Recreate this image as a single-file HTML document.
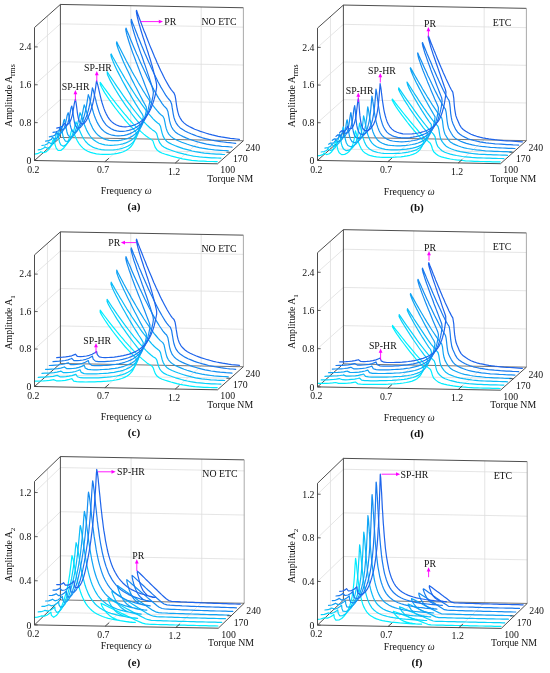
<!DOCTYPE html>
<html lang="en"><head><meta charset="utf-8"><title>Figure</title>
<style>html,body{margin:0;padding:0;background:#fff}svg{display:block}</style></head>
<body>
<svg width="550" height="673" viewBox="0 0 550 673" font-family="'Liberation Serif', 'Times New Roman', serif" fill="#111111">
<rect width="550" height="673" fill="#ffffff"/>
<line x1="34.50" y1="122.64" x2="60.40" y2="99.59" stroke="#dedede" stroke-width="0.80"/>
<line x1="60.40" y1="99.59" x2="243.40" y2="102.89" stroke="#dedede" stroke-width="0.80"/>
<line x1="34.50" y1="84.77" x2="60.40" y2="61.72" stroke="#dedede" stroke-width="0.80"/>
<line x1="60.40" y1="61.72" x2="243.40" y2="65.02" stroke="#dedede" stroke-width="0.80"/>
<line x1="34.50" y1="46.91" x2="60.40" y2="23.86" stroke="#dedede" stroke-width="0.80"/>
<line x1="60.40" y1="23.86" x2="243.40" y2="27.16" stroke="#dedede" stroke-width="0.80"/>
<line x1="104.88" y1="161.77" x2="130.78" y2="138.72" stroke="#dedede" stroke-width="0.80"/>
<line x1="130.78" y1="138.72" x2="130.78" y2="5.72" stroke="#dedede" stroke-width="0.80"/>
<line x1="175.27" y1="163.04" x2="201.17" y2="139.99" stroke="#dedede" stroke-width="0.80"/>
<line x1="201.17" y1="139.99" x2="201.17" y2="6.99" stroke="#dedede" stroke-width="0.80"/>
<line x1="47.45" y1="148.97" x2="230.45" y2="152.28" stroke="#dedede" stroke-width="0.80"/>
<line x1="47.45" y1="148.97" x2="47.45" y2="15.97" stroke="#dedede" stroke-width="0.80"/>
<line x1="60.40" y1="137.45" x2="243.40" y2="140.75" stroke="#666666" stroke-width="0.90"/>
<line x1="34.50" y1="160.50" x2="60.40" y2="137.45" stroke="#3a3a3a" stroke-width="0.90"/>
<line x1="60.40" y1="137.45" x2="60.40" y2="4.45" stroke="#3a3a3a" stroke-width="0.90"/>
<line x1="60.40" y1="4.45" x2="243.40" y2="7.75" stroke="#3a3a3a" stroke-width="0.90"/>
<line x1="34.50" y1="27.50" x2="60.40" y2="4.45" stroke="#3a3a3a" stroke-width="0.90"/>
<line x1="243.40" y1="140.75" x2="243.40" y2="7.75" stroke="#a0a0a0" stroke-width="0.90"/>
<path d="M34.5 154.1 L37.5 153.7 L40.3 152.3 L40.8 151.7 L43.6 152.8 L46.4 151.6 L48.7 149.6 L50.3 147.0 L51.6 144.1 L52.5 141.1 L53.6 139.3 L54.5 142.1 L55.2 145.1 L56.2 148.1 L58.1 150.5 L61.1 150.3 L63.5 148.3 L65.4 145.9 L67.1 143.3 L68.4 140.4 L69.5 137.6 L70.4 134.6 L71.2 131.6 L71.9 129.5 L73.4 132.2 L74.6 135.0 L75.9 137.9 L77.2 140.6 L78.8 143.3 L80.6 145.7 L82.7 147.9 L85.0 149.8 L87.7 151.3 L90.5 152.4 L93.4 153.2 L96.4 153.8 L99.4 154.2 L102.4 154.4 L105.5 154.4 L108.5 154.4 L111.5 154.2 L114.5 153.9 L117.5 153.4 L120.4 152.7 L123.3 151.7 L126.0 150.5 L128.6 148.8 L130.8 146.8 L132.6 144.4 L134.0 141.7 L135.2 138.9 L136.1 136.0 L136.7 133.1 L134.9 130.6 L132.8 128.5 L130.7 126.4 L128.6 124.1 L126.6 121.8 L124.5 119.5 L122.6 117.1 L120.6 114.7 L118.7 112.4 L116.9 110.0 L115.0 107.6 L113.2 105.1 L111.4 102.7 L109.6 100.2 L107.9 97.7 L106.3 95.1 L104.6 92.6 L103.1 89.9 L101.6 87.3 L100.3 84.6 L100.2 82.3 L102.0 84.9 L103.8 87.4 L105.7 89.9 L107.5 92.4 L109.4 94.9 L111.2 97.3 L113.1 99.7 L115.0 102.1 L116.9 104.6 L118.9 107.0 L120.8 109.4 L122.8 111.8 L124.7 114.1 L126.7 116.4 L128.7 118.8 L130.8 121.1 L132.8 123.3 L135.0 125.6 L137.1 127.8 L139.3 130.0 L141.5 132.1 L143.8 134.1 L146.1 136.0 L148.6 137.8 L151.2 139.4 L152.9 140.9 L154.0 144.1 L155.1 147.1 L156.8 149.7 L159.1 151.6 L161.8 153.0 L164.7 154.0 L167.6 154.9 L170.6 155.8 L173.6 156.6 L176.6 157.4 L179.6 158.1 L182.6 158.8 L185.6 159.3 L188.6 159.8 L191.7 160.3 L194.7 160.6 L197.7 160.9 L200.7 161.1 L203.7 161.2 L206.7 161.4 L209.7 161.5 L212.7 161.5 L215.7 161.6 L217.2 161.7" fill="none" stroke="#00eeff" stroke-width="1.20" stroke-linejoin="round" stroke-linecap="round"/>
<path d="M38.2 149.8 L41.2 149.3 L44.0 148.0 L44.7 146.9 L47.4 148.3 L50.2 147.0 L52.3 144.7 L53.8 142.1 L54.8 139.3 L55.8 136.2 L56.6 133.3 L57.2 132.6 L58.1 135.5 L58.7 138.7 L59.5 141.9 L60.7 144.7 L63.3 146.3 L65.9 144.9 L68.0 142.6 L69.7 140.1 L71.3 137.4 L72.5 134.5 L73.5 131.6 L74.3 128.5 L75.0 125.5 L75.8 122.5 L76.0 121.9 L77.3 124.8 L78.5 127.7 L79.6 130.6 L80.9 133.5 L82.2 136.3 L83.8 139.0 L85.6 141.5 L87.7 143.7 L90.0 145.5 L92.7 147.1 L95.5 148.2 L98.4 149.0 L101.4 149.6 L104.4 149.9 L107.4 150.0 L110.4 150.0 L113.5 149.8 L116.5 149.5 L119.5 149.0 L122.4 148.3 L125.3 147.3 L128.1 146.0 L130.6 144.4 L132.9 142.4 L134.8 140.0 L136.3 137.4 L137.6 134.6 L138.6 131.8 L139.4 128.9 L140.1 125.9 L139.1 123.0 L137.1 120.7 L135.2 118.3 L133.3 115.9 L131.5 113.5 L129.7 110.9 L127.9 108.4 L126.0 105.9 L124.3 103.4 L122.6 100.9 L120.9 98.3 L119.2 95.7 L117.6 93.1 L116.0 90.5 L114.4 87.9 L112.9 85.3 L111.4 82.6 L109.9 79.9 L108.6 77.1 L107.4 74.4 L107.2 71.7 L108.8 74.2 L110.5 76.8 L112.2 79.4 L114.0 82.0 L115.7 84.6 L117.4 87.2 L119.2 89.7 L120.9 92.2 L122.6 94.7 L124.5 97.3 L126.3 99.8 L128.1 102.3 L129.9 104.7 L131.8 107.1 L133.7 109.6 L135.6 112.0 L137.5 114.4 L139.5 116.8 L141.5 119.1 L143.5 121.4 L145.6 123.6 L147.8 125.8 L150.1 128.0 L152.5 129.9 L155.0 131.6 L156.6 133.4 L157.6 136.8 L158.5 140.0 L159.8 142.9 L161.7 145.4 L164.2 147.3 L166.9 148.6 L169.8 149.7 L172.6 150.7 L175.5 151.7 L178.4 152.6 L181.4 153.4 L184.4 154.2 L187.4 154.9 L190.4 155.5 L193.4 156.1 L196.4 156.5 L199.5 156.9 L202.5 157.2 L205.5 157.4 L208.5 157.6 L211.5 157.8 L214.5 157.9 L217.5 158.0 L220.5 158.1 L220.9 158.1" fill="none" stroke="#06d2fb" stroke-width="1.20" stroke-linejoin="round" stroke-linecap="round"/>
<path d="M41.9 145.5 L44.9 145.0 L47.7 143.7 L48.6 142.1 L51.1 143.7 L53.8 142.4 L55.8 140.1 L57.3 137.3 L58.3 134.3 L59.1 131.4 L59.8 128.3 L60.8 126.0 L61.7 129.1 L62.3 132.4 L62.9 135.6 L63.8 138.5 L65.4 141.1 L68.4 141.3 L70.6 139.2 L72.4 136.7 L73.9 134.0 L75.2 131.3 L76.2 128.5 L77.2 125.5 L78.0 122.5 L78.7 119.3 L79.3 116.2 L80.0 113.0 L80.1 112.7 L81.3 115.6 L82.3 118.5 L83.3 121.6 L84.3 124.5 L85.4 127.3 L86.6 130.1 L88.1 132.9 L89.7 135.5 L91.6 138.0 L93.9 140.1 L96.4 141.8 L99.1 143.2 L102.0 144.1 L104.9 144.8 L107.9 145.2 L110.9 145.3 L113.9 145.2 L116.9 145.0 L119.9 144.5 L122.9 143.8 L125.8 142.9 L128.5 141.7 L131.2 140.2 L133.6 138.3 L135.7 136.1 L137.5 133.7 L139.0 131.1 L140.2 128.3 L141.2 125.4 L142.0 122.5 L142.7 119.6 L143.3 116.6 L142.1 113.8 L140.4 111.3 L138.7 108.7 L137.1 106.1 L135.5 103.6 L133.9 100.9 L132.3 98.2 L130.8 95.6 L129.3 93.0 L127.7 90.3 L126.2 87.6 L124.7 84.9 L123.2 82.2 L121.8 79.6 L120.4 76.8 L119.0 74.1 L117.6 71.4 L116.3 68.7 L115.0 65.9 L113.7 63.1 L112.6 60.3 L111.5 57.5 L110.8 54.5 L111.2 54.0 L112.6 56.8 L114.2 59.5 L115.7 62.3 L117.2 65.0 L118.8 67.7 L120.3 70.4 L121.9 73.0 L123.4 75.6 L124.9 78.2 L126.6 81.0 L128.2 83.6 L129.8 86.3 L131.5 88.9 L133.1 91.5 L134.7 94.0 L136.4 96.6 L138.2 99.2 L139.9 101.7 L141.6 104.2 L143.4 106.7 L145.2 109.2 L147.1 111.7 L149.0 114.1 L151.0 116.4 L153.1 118.8 L155.3 121.0 L157.6 123.0 L159.2 124.1 L160.5 126.3 L161.3 129.8 L162.1 133.1 L163.1 136.1 L164.6 138.9 L166.6 141.2 L169.1 142.9 L171.8 144.3 L174.7 145.5 L177.6 146.6 L180.4 147.6 L183.3 148.6 L186.2 149.4 L189.2 150.2 L192.2 151.0 L195.2 151.7 L198.2 152.2 L201.2 152.7 L204.3 153.1 L207.3 153.4 L210.3 153.7 L213.3 153.9 L216.3 154.1 L219.3 154.2 L222.3 154.4 L224.6 154.5" fill="none" stroke="#0bbbf8" stroke-width="1.20" stroke-linejoin="round" stroke-linecap="round"/>
<path d="M45.6 141.1 L48.6 140.6 L51.4 139.4 L52.4 137.2 L54.7 139.2 L57.4 137.8 L59.4 135.5 L60.7 132.6 L61.7 129.7 L62.4 126.7 L63.1 123.8 L63.8 120.6 L64.5 119.3 L65.3 122.3 L65.8 125.5 L66.3 128.6 L66.9 131.7 L67.8 134.6 L69.6 137.0 L72.6 136.5 L74.7 134.2 L76.4 131.6 L77.8 128.9 L79.0 126.1 L80.1 123.1 L81.0 120.0 L81.8 116.9 L82.4 113.9 L83.0 110.9 L83.6 107.7 L84.2 104.8 L85.3 107.6 L86.2 110.6 L87.1 113.5 L88.0 116.5 L89.0 119.4 L90.0 122.4 L91.3 125.3 L92.6 128.1 L94.2 130.7 L96.1 133.2 L98.2 135.3 L100.6 137.1 L103.3 138.6 L106.2 139.6 L109.1 140.3 L112.1 140.6 L115.1 140.7 L118.1 140.6 L121.1 140.2 L124.1 139.5 L127.0 138.7 L129.8 137.5 L132.5 136.1 L135.0 134.3 L137.2 132.2 L139.1 129.9 L140.8 127.4 L142.2 124.7 L143.3 121.8 L144.3 119.0 L145.1 116.1 L145.8 113.1 L146.4 110.1 L146.3 107.1 L144.8 104.3 L143.3 101.6 L141.9 98.9 L140.5 96.2 L139.1 93.5 L137.7 90.8 L136.3 88.0 L134.8 85.3 L133.5 82.6 L132.1 79.9 L130.8 77.2 L129.5 74.5 L128.1 71.6 L126.8 68.9 L125.4 66.0 L124.1 63.2 L122.9 60.4 L121.7 57.6 L120.5 54.8 L119.4 52.0 L118.3 49.2 L117.3 46.3 L116.5 43.4 L116.7 41.8 L118.0 44.6 L119.4 47.3 L120.8 50.1 L122.2 52.8 L123.6 55.5 L125.0 58.2 L126.4 61.0 L127.9 63.8 L129.4 66.6 L130.9 69.3 L132.3 72.0 L133.8 74.7 L135.3 77.3 L136.9 80.0 L138.4 82.8 L140.0 85.4 L141.6 88.0 L143.1 90.6 L144.8 93.3 L146.4 95.9 L148.1 98.4 L149.8 101.0 L151.6 103.5 L153.4 106.0 L155.2 108.4 L157.1 110.7 L159.1 113.0 L161.3 115.1 L162.9 116.3 L164.2 118.8 L164.9 122.2 L165.5 125.4 L166.2 128.4 L167.3 131.5 L168.8 134.1 L170.9 136.4 L173.3 138.3 L176.1 139.7 L178.8 141.0 L181.7 142.2 L184.6 143.3 L187.4 144.3 L190.3 145.2 L193.3 146.1 L196.3 146.9 L199.3 147.6 L202.3 148.2 L205.4 148.7 L208.4 149.2 L211.4 149.5 L214.4 149.9 L217.4 150.1 L220.4 150.3 L223.4 150.5 L226.4 150.7 L228.3 150.8" fill="none" stroke="#10a4f4" stroke-width="1.20" stroke-linejoin="round" stroke-linecap="round"/>
<path d="M49.3 136.8 L52.3 136.2 L55.1 135.1 L56.3 132.5 L58.5 134.6 L61.1 133.1 L63.0 130.7 L64.3 127.7 L65.2 124.6 L65.9 121.4 L66.6 118.4 L67.2 115.2 L68.2 112.7 L68.9 115.8 L69.3 118.9 L69.7 121.9 L70.2 124.9 L71.0 128.0 L72.0 130.9 L74.4 132.8 L77.0 131.2 L78.8 128.7 L80.3 126.0 L81.6 123.2 L82.8 120.3 L83.8 117.3 L84.6 114.3 L85.4 111.3 L86.0 108.3 L86.6 105.2 L87.1 102.2 L87.6 99.0 L88.1 95.8 L88.3 94.6 L89.4 97.6 L90.2 100.8 L91.0 103.8 L91.8 106.9 L92.7 110.0 L93.5 112.9 L94.5 116.0 L95.6 118.8 L96.8 121.6 L98.3 124.4 L99.9 126.9 L101.8 129.3 L104.1 131.4 L106.6 133.1 L109.3 134.3 L112.2 135.2 L115.2 135.7 L118.2 135.9 L121.3 135.7 L124.3 135.3 L127.2 134.6 L130.1 133.6 L132.8 132.3 L135.4 130.8 L137.8 128.9 L139.9 126.7 L141.8 124.4 L143.4 121.8 L144.8 119.1 L146.0 116.3 L147.0 113.5 L147.8 110.6 L148.6 107.6 L149.2 104.7 L149.8 101.7 L150.0 98.6 L149.1 95.7 L148.0 92.9 L146.9 90.0 L145.8 87.1 L144.7 84.2 L143.6 81.3 L142.5 78.4 L141.4 75.6 L140.3 72.8 L139.2 69.9 L138.1 67.0 L137.0 64.1 L135.9 61.3 L134.9 58.5 L133.8 55.6 L132.7 52.8 L131.7 49.9 L130.7 47.0 L129.7 44.1 L128.8 41.2 L127.9 38.3 L127.0 35.4 L126.3 32.4 L125.7 29.5 L126.0 28.0 L127.1 31.0 L128.3 33.8 L129.5 36.8 L130.7 39.7 L131.9 42.6 L133.1 45.4 L134.3 48.3 L135.5 51.1 L136.7 53.9 L138.0 56.6 L139.2 59.6 L140.5 62.4 L141.8 65.3 L143.1 68.1 L144.4 70.8 L145.7 73.5 L147.0 76.4 L148.4 79.2 L149.8 81.9 L151.1 84.6 L152.6 87.3 L154.0 90.0 L155.5 92.7 L157.0 95.4 L158.6 98.1 L160.3 100.7 L162.0 103.3 L163.9 105.8 L166.0 108.0 L166.6 108.5 L167.9 111.4 L168.4 114.3 L169.0 117.4 L169.6 120.9 L170.5 124.1 L171.6 127.0 L173.2 129.6 L175.3 131.9 L177.7 133.7 L180.5 135.3 L183.2 136.6 L186.1 137.9 L188.9 139.0 L191.8 140.0 L194.7 141.0 L197.6 141.8 L200.6 142.7 L203.6 143.4 L206.6 144.1 L209.6 144.6 L212.6 145.1 L215.6 145.6 L218.6 145.9 L221.6 146.3 L224.7 146.5 L227.7 146.7 L230.7 147.0 L232.0 147.1" fill="none" stroke="#158ef1" stroke-width="1.20" stroke-linejoin="round" stroke-linecap="round"/>
<path d="M53.0 132.4 L56.0 131.8 L58.8 130.7 L60.2 127.9 L60.3 127.8 L62.3 130.0 L64.9 128.4 L66.6 125.9 L67.9 123.0 L68.7 120.0 L69.4 117.0 L69.9 113.9 L70.5 110.9 L71.1 107.8 L71.8 106.0 L72.5 109.3 L72.9 112.7 L73.4 116.0 L73.9 119.3 L74.5 122.6 L75.4 125.6 L77.2 128.2 L80.2 127.7 L82.1 125.4 L83.7 122.7 L85.0 119.8 L86.2 117.0 L87.2 114.2 L88.1 111.1 L88.9 108.0 L89.6 104.8 L90.2 101.8 L90.8 98.5 L91.3 95.3 L91.8 91.9 L92.3 88.5 L92.4 87.8 L93.4 90.8 L94.2 93.8 L94.9 96.8 L95.7 99.7 L96.4 102.9 L97.2 105.8 L98.1 108.7 L99.0 111.6 L100.1 114.5 L101.3 117.3 L102.7 120.1 L104.4 122.7 L106.3 125.1 L108.6 127.1 L111.1 128.8 L113.9 130.1 L116.8 130.9 L119.8 131.3 L122.8 131.3 L125.8 131.0 L128.8 130.4 L131.7 129.5 L134.5 128.3 L137.1 126.8 L139.6 125.0 L141.8 123.0 L143.8 120.7 L145.5 118.2 L147.0 115.5 L148.3 112.7 L149.4 109.9 L150.4 107.0 L151.2 104.0 L151.9 101.0 L152.6 98.0 L153.1 95.0 L153.4 92.0 L152.7 89.0 L151.9 86.1 L151.0 83.2 L150.0 80.2 L149.1 77.3 L148.1 74.4 L147.1 71.4 L146.2 68.6 L145.2 65.6 L144.1 62.7 L143.1 59.8 L142.1 56.8 L141.0 53.9 L140.0 51.1 L139.0 48.1 L138.0 45.3 L137.0 42.4 L136.1 39.5 L135.2 36.6 L134.3 33.7 L133.4 30.8 L132.6 27.9 L131.9 25.0 L131.2 22.1 L131.3 19.3 L132.3 22.1 L133.4 24.9 L134.6 27.9 L135.7 30.8 L136.9 33.8 L138.0 36.7 L139.2 39.5 L140.4 42.4 L141.5 45.2 L142.7 48.0 L143.9 50.9 L145.1 53.8 L146.4 56.7 L147.6 59.5 L148.8 62.3 L150.1 65.0 L151.4 67.9 L152.7 70.7 L154.0 73.5 L155.3 76.2 L156.7 79.0 L158.0 81.7 L159.5 84.5 L160.9 87.1 L162.5 89.8 L164.1 92.5 L165.7 95.1 L167.5 97.6 L169.5 100.0 L170.3 100.8 L171.6 103.9 L172.1 107.2 L172.7 110.6 L173.2 113.8 L173.9 117.2 L174.9 120.2 L176.2 123.1 L178.0 125.7 L180.2 127.9 L182.7 129.6 L185.4 131.2 L188.1 132.5 L191.0 133.8 L193.9 134.9 L196.7 136.0 L199.6 136.9 L202.5 137.8 L205.5 138.6 L208.5 139.3 L211.5 140.0 L214.5 140.6 L217.5 141.1 L220.6 141.6 L223.6 142.0 L226.6 142.4 L229.6 142.7 L232.6 143.0 L235.6 143.3 L235.7 143.3" fill="none" stroke="#1979ee" stroke-width="1.20" stroke-linejoin="round" stroke-linecap="round"/>
<path d="M56.7 128.1 L59.7 127.4 L62.5 126.4 L64.0 123.7 L64.2 123.0 L66.0 125.4 L68.6 123.8 L70.3 121.2 L71.4 118.2 L72.3 115.1 L72.9 112.0 L73.5 108.6 L74.0 105.5 L74.6 102.2 L75.4 99.4 L76.1 102.8 L76.5 105.8 L76.9 109.0 L77.3 112.3 L77.8 115.5 L78.4 118.6 L79.4 121.5 L81.2 124.0 L84.2 123.4 L86.1 121.0 L87.6 118.3 L88.9 115.5 L90.0 112.7 L91.0 109.8 L92.0 106.7 L92.8 103.6 L93.5 100.4 L94.1 97.4 L94.6 94.1 L95.1 90.8 L95.6 87.8 L96.0 84.7 L96.4 81.7 L96.6 80.9 L97.5 83.9 L98.3 87.1 L99.0 90.3 L99.7 93.4 L100.4 96.4 L101.2 99.6 L102.0 102.5 L102.9 105.4 L103.9 108.4 L105.0 111.3 L106.3 114.1 L107.8 116.8 L109.5 119.3 L111.5 121.6 L113.9 123.5 L116.5 125.0 L119.4 126.1 L122.4 126.6 L125.4 126.8 L128.4 126.5 L131.5 125.9 L134.3 125.0 L137.1 123.8 L139.8 122.3 L142.2 120.5 L144.4 118.4 L146.4 116.1 L148.2 113.6 L149.7 111.0 L151.0 108.3 L152.1 105.5 L153.1 102.6 L154.0 99.7 L154.8 96.8 L155.5 93.8 L156.1 90.7 L156.6 87.7 L156.6 84.7 L156.1 81.7 L155.4 78.7 L154.7 75.7 L153.9 72.7 L153.2 69.8 L152.4 66.8 L151.5 63.9 L150.7 61.0 L149.8 58.0 L148.8 55.0 L147.9 52.0 L146.9 49.1 L146.0 46.1 L145.0 43.2 L144.1 40.2 L143.1 37.3 L142.2 34.4 L141.3 31.5 L140.4 28.5 L139.6 25.6 L138.7 22.7 L138.0 19.7 L137.3 16.8 L136.7 13.8 L136.3 10.8 L136.6 10.5 L137.6 13.4 L138.6 16.2 L139.7 19.2 L140.8 22.2 L141.9 25.1 L143.0 28.1 L144.1 31.0 L145.3 33.8 L146.4 36.7 L147.5 39.5 L148.6 42.4 L149.8 45.4 L151.0 48.3 L152.2 51.1 L153.4 53.9 L154.5 56.7 L155.8 59.6 L157.0 62.4 L158.3 65.2 L159.5 67.9 L160.8 70.8 L162.2 73.5 L163.5 76.3 L164.9 79.0 L166.4 81.7 L167.9 84.4 L169.5 87.1 L171.2 89.6 L173.1 92.0 L174.0 93.0 L175.1 95.8 L175.7 99.1 L176.1 102.1 L176.6 105.6 L177.2 109.0 L177.9 112.1 L178.8 115.2 L180.2 118.1 L182.0 120.8 L184.2 123.1 L186.6 125.0 L189.2 126.5 L192.0 127.9 L194.7 129.2 L197.6 130.3 L200.4 131.4 L203.3 132.3 L206.2 133.2 L209.2 134.1 L212.2 134.9 L215.2 135.6 L218.2 136.3 L221.2 136.9 L224.3 137.4 L227.3 137.9 L230.3 138.4 L233.3 138.7 L236.3 139.0 L239.3 139.4 L239.4 139.4" fill="none" stroke="#1e64eb" stroke-width="1.20" stroke-linejoin="round" stroke-linecap="round"/>
<line x1="34.50" y1="160.50" x2="217.50" y2="163.80" stroke="#3a3a3a" stroke-width="0.90"/>
<line x1="217.50" y1="163.80" x2="243.40" y2="140.75" stroke="#3a3a3a" stroke-width="0.90"/>
<line x1="34.50" y1="160.50" x2="34.50" y2="27.50" stroke="#3a3a3a" stroke-width="0.90"/>
<line x1="34.50" y1="160.50" x2="37.70" y2="160.50" stroke="#3a3a3a" stroke-width="0.80"/>
<text x="31.50" y="164.30" text-anchor="end" font-size="9.80" font-weight="normal" font-style="normal">0</text>
<line x1="34.50" y1="122.64" x2="37.70" y2="122.64" stroke="#3a3a3a" stroke-width="0.80"/>
<text x="31.50" y="125.94" text-anchor="end" font-size="9.80" font-weight="normal" font-style="normal">0.8</text>
<line x1="34.50" y1="84.77" x2="37.70" y2="84.77" stroke="#3a3a3a" stroke-width="0.80"/>
<text x="31.50" y="88.07" text-anchor="end" font-size="9.80" font-weight="normal" font-style="normal">1.6</text>
<line x1="34.50" y1="46.91" x2="37.70" y2="46.91" stroke="#3a3a3a" stroke-width="0.80"/>
<text x="31.50" y="50.21" text-anchor="end" font-size="9.80" font-weight="normal" font-style="normal">2.4</text>
<line x1="104.88" y1="161.77" x2="108.88" y2="158.27" stroke="#3a3a3a" stroke-width="0.90"/>
<line x1="175.27" y1="163.04" x2="179.27" y2="159.54" stroke="#3a3a3a" stroke-width="0.90"/>
<text x="33.30" y="172.70" text-anchor="middle" font-size="9.80" font-weight="normal" font-style="normal">0.2</text>
<text x="103.08" y="173.37" text-anchor="middle" font-size="9.80" font-weight="normal" font-style="normal">0.7</text>
<text x="174.07" y="174.64" text-anchor="middle" font-size="9.80" font-weight="normal" font-style="normal">1.2</text>
<line x1="230.45" y1="152.28" x2="226.45" y2="152.28" stroke="#3a3a3a" stroke-width="0.80"/>
<text x="227.70" y="173.40" text-anchor="middle" font-size="9.80" font-weight="normal" font-style="normal">100</text>
<text x="240.25" y="162.28" text-anchor="middle" font-size="9.80" font-weight="normal" font-style="normal">170</text>
<text x="252.80" y="151.35" text-anchor="middle" font-size="9.80" font-weight="normal" font-style="normal">240</text>
<text x="230.20" y="181.80" text-anchor="middle" font-size="9.80" font-weight="normal" font-style="normal">Torque NM</text>
<text x="12.20" y="95.60" text-anchor="middle" font-size="9.80" font-weight="normal" font-style="normal" transform="rotate(-90 12.20 95.60)">Amplitude A<tspan font-size="7.8" dy="3.3">rms</tspan></text>
<text x="126.20" y="194.00" text-anchor="middle" font-size="9.80" font-weight="normal" font-style="normal">Frequency <tspan font-style="italic">&#969;</tspan></text>
<text x="134.00" y="210.00" text-anchor="middle" font-size="11.20" font-weight="bold" font-style="normal">(a)</text>
<text x="219.10" y="24.95" text-anchor="middle" font-size="9.80" font-weight="normal" font-style="normal">NO ETC</text>
<line x1="140.60" y1="21.60" x2="159.80" y2="21.60" stroke="#ff00ff" stroke-width="0.90"/>
<polygon points="163.00,21.60 158.80,23.50 158.80,19.70" fill="#ff00ff"/>
<text x="164.30" y="25.00" text-anchor="start" font-size="9.80" font-weight="normal" font-style="normal">PR</text>
<line x1="75.40" y1="101.00" x2="75.40" y2="93.20" stroke="#ff00ff" stroke-width="0.90"/>
<polygon points="75.40,90.00 77.30,94.20 73.50,94.20" fill="#ff00ff"/>
<text x="75.60" y="90.40" text-anchor="middle" font-size="9.80" font-weight="normal" font-style="normal">SP-HR</text>
<line x1="96.80" y1="81.60" x2="96.80" y2="74.20" stroke="#ff00ff" stroke-width="0.90"/>
<polygon points="96.80,71.00 98.70,75.20 94.90,75.20" fill="#ff00ff"/>
<text x="98.00" y="71.00" text-anchor="middle" font-size="9.80" font-weight="normal" font-style="normal">SP-HR</text>
<line x1="317.50" y1="122.73" x2="343.40" y2="99.68" stroke="#dedede" stroke-width="0.80"/>
<line x1="343.40" y1="99.68" x2="526.40" y2="102.98" stroke="#dedede" stroke-width="0.80"/>
<line x1="317.50" y1="85.07" x2="343.40" y2="62.02" stroke="#dedede" stroke-width="0.80"/>
<line x1="343.40" y1="62.02" x2="526.40" y2="65.32" stroke="#dedede" stroke-width="0.80"/>
<line x1="317.50" y1="47.40" x2="343.40" y2="24.35" stroke="#dedede" stroke-width="0.80"/>
<line x1="343.40" y1="24.35" x2="526.40" y2="27.65" stroke="#dedede" stroke-width="0.80"/>
<line x1="387.88" y1="161.67" x2="413.78" y2="138.62" stroke="#dedede" stroke-width="0.80"/>
<line x1="413.78" y1="138.62" x2="413.78" y2="6.32" stroke="#dedede" stroke-width="0.80"/>
<line x1="458.27" y1="162.94" x2="484.17" y2="139.89" stroke="#dedede" stroke-width="0.80"/>
<line x1="484.17" y1="139.89" x2="484.17" y2="7.59" stroke="#dedede" stroke-width="0.80"/>
<line x1="330.45" y1="148.88" x2="513.45" y2="152.18" stroke="#dedede" stroke-width="0.80"/>
<line x1="330.45" y1="148.88" x2="330.45" y2="16.57" stroke="#dedede" stroke-width="0.80"/>
<line x1="343.40" y1="137.35" x2="526.40" y2="140.65" stroke="#666666" stroke-width="0.90"/>
<line x1="317.50" y1="160.40" x2="343.40" y2="137.35" stroke="#3a3a3a" stroke-width="0.90"/>
<line x1="343.40" y1="137.35" x2="343.40" y2="5.05" stroke="#3a3a3a" stroke-width="0.90"/>
<line x1="343.40" y1="5.05" x2="526.40" y2="8.35" stroke="#3a3a3a" stroke-width="0.90"/>
<line x1="317.50" y1="28.10" x2="343.40" y2="5.05" stroke="#3a3a3a" stroke-width="0.90"/>
<line x1="526.40" y1="140.65" x2="526.40" y2="8.35" stroke="#a0a0a0" stroke-width="0.90"/>
<path d="M317.5 155.9 L320.5 155.4 L323.3 154.2 L324.0 153.0 L326.5 154.6 L329.4 153.7 L331.7 151.8 L333.3 149.1 L334.4 146.0 L335.1 142.9 L335.9 140.8 L336.7 143.8 L337.2 146.8 L337.9 149.9 L339.2 152.7 L341.6 154.6 L344.7 154.4 L347.3 153.0 L349.6 151.0 L351.3 148.5 L352.5 145.6 L353.4 142.6 L354.1 139.4 L354.6 136.3 L355.0 133.1 L355.4 130.8 L356.4 133.9 L357.1 137.0 L357.9 140.0 L358.7 143.0 L359.8 145.8 L361.1 148.5 L362.9 151.1 L365.1 153.1 L367.8 154.6 L370.7 155.7 L373.6 156.4 L376.6 156.8 L379.7 157.1 L382.7 157.3 L385.7 157.4 L388.8 157.4 L391.8 157.3 L394.9 157.2 L397.9 157.0 L400.9 156.8 L404.0 156.4 L407.0 155.9 L409.9 155.3 L412.8 154.4 L415.6 153.2 L418.1 151.5 L420.2 149.4 L421.8 146.8 L423.0 144.0 L423.6 141.0 L421.5 138.8 L419.4 136.7 L417.3 134.4 L415.3 132.0 L413.3 129.7 L411.4 127.3 L409.5 125.0 L407.5 122.5 L405.7 120.1 L403.8 117.7 L401.9 115.2 L400.1 112.7 L398.3 110.2 L396.6 107.7 L395.0 105.1 L393.4 102.5 L392.1 99.8 L392.4 99.1 L394.2 101.4 L396.1 103.9 L398.0 106.3 L399.9 108.7 L401.8 111.1 L403.7 113.5 L405.6 115.9 L407.5 118.2 L409.5 120.6 L411.5 123.0 L413.5 125.4 L415.5 127.7 L417.5 130.0 L419.5 132.3 L421.6 134.6 L423.6 136.8 L425.8 139.0 L428.0 141.2 L430.3 143.2 L431.6 146.0 L432.4 148.9 L433.7 151.8 L436.1 154.0 L438.5 155.8 L441.4 156.9 L444.4 157.7 L447.4 158.4 L450.4 159.0 L453.4 159.5 L456.5 159.9 L459.5 160.2 L462.5 160.5 L465.5 160.8 L468.5 161.0 L471.5 161.1 L474.5 161.3 L477.5 161.4 L480.5 161.5 L483.5 161.5 L486.6 161.6 L489.6 161.7 L492.6 161.8 L495.6 161.8 L498.6 161.9 L500.2 161.9" fill="none" stroke="#00eeff" stroke-width="1.20" stroke-linejoin="round" stroke-linecap="round"/>
<path d="M321.2 152.0 L324.2 151.5 L327.0 150.3 L328.0 148.4 L330.2 150.5 L333.1 149.6 L335.3 147.4 L336.7 144.8 L337.6 141.7 L338.4 138.8 L339.0 135.8 L339.7 133.8 L340.4 137.1 L340.8 140.3 L341.3 143.3 L342.2 146.4 L343.6 149.1 L346.2 150.7 L349.1 150.2 L351.6 148.5 L353.7 146.3 L355.3 143.7 L356.4 140.8 L357.3 137.9 L357.9 134.6 L358.4 131.4 L358.9 128.1 L359.3 125.0 L359.6 123.2 L360.4 126.1 L361.0 129.3 L361.7 132.4 L362.4 135.6 L363.3 138.5 L364.3 141.4 L365.6 144.3 L367.3 146.8 L369.5 149.0 L372.1 150.6 L374.9 151.7 L377.8 152.5 L380.8 153.0 L383.8 153.3 L386.9 153.5 L389.9 153.5 L392.9 153.5 L396.0 153.4 L399.0 153.3 L402.0 153.0 L405.1 152.6 L408.1 152.2 L411.1 151.5 L413.9 150.7 L416.8 149.6 L419.4 148.1 L421.7 146.2 L423.6 143.9 L425.1 141.3 L426.2 138.5 L427.1 135.6 L427.3 132.6 L425.4 130.2 L423.4 127.8 L421.6 125.4 L419.8 122.9 L418.0 120.4 L416.2 117.9 L414.5 115.5 L412.7 112.9 L411.0 110.3 L409.3 107.8 L407.7 105.2 L406.0 102.6 L404.4 100.1 L402.9 97.5 L401.4 94.9 L399.9 92.2 L398.6 89.5 L398.7 87.8 L400.4 90.3 L402.1 92.8 L403.8 95.3 L405.5 97.8 L407.3 100.4 L409.1 102.9 L410.9 105.4 L412.7 107.9 L414.4 110.4 L416.2 112.9 L418.0 115.3 L419.9 117.8 L421.7 120.2 L423.6 122.6 L425.5 125.0 L427.4 127.4 L429.3 129.7 L431.3 131.9 L433.5 134.1 L435.1 136.9 L435.7 140.2 L436.5 143.5 L437.7 146.3 L439.8 148.6 L442.0 150.7 L444.7 152.2 L447.6 153.2 L450.4 154.1 L453.5 154.9 L456.5 155.5 L459.5 156.0 L462.5 156.5 L465.5 156.8 L468.5 157.1 L471.5 157.4 L474.5 157.6 L477.5 157.8 L480.5 157.9 L483.6 158.0 L486.6 158.1 L489.6 158.2 L492.6 158.3 L495.6 158.4 L498.6 158.5 L501.6 158.5 L503.9 158.6" fill="none" stroke="#06d2fb" stroke-width="1.20" stroke-linejoin="round" stroke-linecap="round"/>
<path d="M324.9 148.2 L327.9 147.5 L330.7 146.4 L331.8 143.9 L333.7 146.3 L336.6 145.4 L338.8 143.2 L340.2 140.5 L341.1 137.6 L341.8 134.4 L342.4 131.0 L343.0 127.8 L343.4 126.8 L344.1 130.3 L344.5 133.5 L344.9 136.8 L345.5 140.0 L346.4 143.0 L347.9 145.5 L350.7 146.8 L353.6 145.9 L355.9 144.1 L357.9 141.7 L359.3 139.0 L360.4 136.0 L361.3 132.9 L361.8 129.9 L362.4 126.6 L362.8 123.2 L363.2 119.8 L363.5 116.4 L363.6 115.9 L364.4 118.9 L365.0 122.1 L365.6 125.2 L366.3 128.5 L367.0 131.7 L367.8 134.6 L368.9 137.5 L370.2 140.4 L371.9 142.9 L374.1 145.1 L376.6 146.8 L379.4 147.9 L382.3 148.7 L385.3 149.3 L388.3 149.6 L391.4 149.8 L394.4 149.8 L397.4 149.8 L400.5 149.7 L403.5 149.4 L406.5 149.1 L409.6 148.7 L412.5 148.1 L415.5 147.4 L418.4 146.4 L421.1 145.1 L423.6 143.4 L425.7 141.2 L427.5 138.7 L428.8 136.0 L429.9 133.2 L430.7 130.3 L431.3 127.4 L431.3 124.4 L429.4 122.0 L427.6 119.4 L425.9 116.9 L424.3 114.3 L422.6 111.7 L421.0 109.1 L419.4 106.5 L417.8 103.9 L416.3 101.3 L414.7 98.6 L413.2 96.0 L411.7 93.3 L410.3 90.6 L408.9 87.9 L407.7 85.1 L407.0 82.2 L407.2 82.2 L408.8 84.8 L410.4 87.3 L412.0 89.9 L413.7 92.5 L415.4 95.1 L417.1 97.7 L418.7 100.2 L420.4 102.8 L422.1 105.3 L423.8 107.8 L425.6 110.3 L427.3 112.8 L429.1 115.3 L430.9 117.8 L432.8 120.3 L434.7 122.6 L436.7 124.9 L438.0 126.4 L438.9 129.6 L439.4 132.8 L439.9 135.8 L440.7 138.9 L442.2 141.6 L444.0 144.0 L446.1 146.2 L448.7 147.8 L451.5 149.0 L454.4 150.0 L457.3 150.9 L460.3 151.7 L463.3 152.2 L466.3 152.7 L469.3 153.2 L472.3 153.5 L475.3 153.8 L478.4 154.1 L481.4 154.3 L484.4 154.4 L487.4 154.6 L490.4 154.7 L493.4 154.8 L496.4 154.9 L499.4 155.0 L502.4 155.1 L505.4 155.2 L507.6 155.3" fill="none" stroke="#0bbbf8" stroke-width="1.20" stroke-linejoin="round" stroke-linecap="round"/>
<path d="M328.6 144.2 L330.5 143.0 L333.6 143.1 L335.4 140.5 L335.7 139.5 L337.4 142.0 L340.4 141.2 L342.4 138.9 L343.7 136.0 L344.6 133.0 L345.3 129.7 L345.9 126.4 L346.3 123.3 L346.9 120.2 L347.2 119.8 L347.7 122.8 L348.1 126.4 L348.5 129.8 L348.9 133.0 L349.5 136.1 L350.4 139.0 L352.0 141.6 L354.8 142.8 L357.6 141.7 L359.9 139.6 L361.8 137.1 L363.2 134.3 L364.2 131.4 L365.0 128.2 L365.6 125.3 L366.1 122.0 L366.6 118.5 L367.0 115.2 L367.2 112.1 L367.5 108.9 L367.8 106.9 L368.5 110.2 L369.0 113.3 L369.5 116.5 L370.1 119.6 L370.7 122.8 L371.3 125.9 L372.1 128.8 L372.9 131.7 L374.1 134.6 L375.5 137.2 L377.3 139.7 L379.6 141.8 L382.3 143.3 L385.1 144.4 L388.0 145.1 L391.1 145.5 L394.1 145.7 L397.1 145.8 L400.2 145.8 L403.2 145.6 L406.2 145.4 L409.3 145.0 L412.2 144.5 L415.2 143.8 L418.1 143.0 L420.9 141.9 L423.6 140.5 L426.0 138.8 L428.1 136.6 L429.9 134.2 L431.3 131.5 L432.4 128.7 L433.4 125.8 L434.1 122.8 L434.7 119.9 L435.1 116.9 L433.6 114.2 L432.1 111.6 L430.6 109.0 L429.1 106.4 L427.6 103.7 L426.1 101.0 L424.6 98.4 L423.2 95.7 L421.8 93.1 L420.3 90.3 L418.9 87.6 L417.5 84.9 L416.1 82.2 L414.8 79.5 L413.5 76.8 L412.3 74.0 L411.1 71.2 L410.3 68.3 L410.5 67.7 L412.0 70.4 L413.5 73.1 L415.0 75.7 L416.5 78.4 L418.0 81.0 L419.5 83.6 L421.1 86.3 L422.6 89.0 L424.2 91.6 L425.8 94.2 L427.3 96.8 L429.0 99.4 L430.6 102.0 L432.2 104.6 L433.9 107.2 L435.6 109.7 L437.4 112.3 L439.2 114.8 L441.2 117.2 L441.7 117.8 L442.5 120.9 L442.9 124.4 L443.3 127.6 L444.0 131.1 L445.0 134.2 L446.6 136.9 L448.3 139.6 L450.3 141.9 L452.9 143.6 L455.7 144.9 L458.5 146.0 L461.4 147.0 L464.4 147.8 L467.4 148.5 L470.4 149.0 L473.4 149.5 L476.4 149.9 L479.5 150.2 L482.5 150.5 L485.5 150.8 L488.5 151.0 L491.5 151.1 L494.5 151.3 L497.5 151.4 L500.5 151.5 L503.5 151.6 L506.5 151.7 L509.6 151.8 L511.3 151.9" fill="none" stroke="#10a4f4" stroke-width="1.20" stroke-linejoin="round" stroke-linecap="round"/>
<path d="M332.3 140.3 L334.2 138.9 L337.2 139.2 L339.1 136.8 L339.6 135.1 L341.1 137.7 L344.1 136.9 L346.0 134.5 L347.3 131.7 L348.2 128.6 L348.7 125.6 L349.3 122.3 L349.7 119.3 L350.2 115.9 L350.7 112.9 L350.9 112.7 L351.4 115.8 L351.7 119.0 L352.0 122.2 L352.4 125.7 L352.8 128.9 L353.4 132.0 L354.3 134.9 L355.9 137.5 L358.7 138.7 L361.5 137.4 L363.6 135.3 L365.3 132.8 L366.7 130.1 L367.7 127.2 L368.5 124.2 L369.2 121.1 L369.7 118.0 L370.1 114.9 L370.5 111.7 L370.9 108.0 L371.2 104.6 L371.5 101.0 L371.8 97.2 L371.9 96.1 L372.6 99.5 L373.0 102.7 L373.5 105.9 L373.9 109.1 L374.4 112.1 L374.9 115.3 L375.5 118.5 L376.1 121.6 L376.9 124.5 L377.8 127.4 L378.9 130.3 L380.3 133.0 L382.0 135.4 L384.3 137.5 L386.9 139.1 L389.7 140.3 L392.6 141.0 L395.7 141.5 L398.7 141.7 L401.7 141.8 L404.8 141.7 L407.8 141.4 L410.8 141.0 L413.8 140.5 L416.8 139.8 L419.6 139.0 L422.5 137.9 L425.2 136.5 L427.7 134.8 L429.9 132.7 L431.8 130.4 L433.4 127.8 L434.6 125.1 L435.7 122.2 L436.5 119.3 L437.2 116.4 L437.8 113.4 L438.3 110.5 L438.4 107.4 L437.2 104.6 L436.0 101.7 L434.7 98.9 L433.5 96.1 L432.3 93.3 L431.1 90.4 L430.0 87.6 L428.8 84.7 L427.6 81.9 L426.5 79.1 L425.3 76.3 L424.2 73.4 L423.0 70.5 L421.9 67.6 L420.9 64.8 L419.9 61.9 L418.9 59.0 L418.1 56.1 L417.6 53.1 L417.8 52.9 L419.0 55.8 L420.2 58.5 L421.5 61.3 L422.7 64.1 L424.0 67.0 L425.3 69.8 L426.6 72.6 L427.8 75.4 L429.1 78.1 L430.4 80.8 L431.7 83.6 L433.1 86.4 L434.4 89.2 L435.7 91.9 L437.1 94.6 L438.5 97.4 L440.0 100.1 L441.4 102.8 L442.9 105.4 L444.6 108.0 L445.4 109.2 L446.1 112.2 L446.5 115.2 L446.8 118.2 L447.2 121.5 L447.7 124.6 L448.5 127.9 L449.9 130.7 L451.4 133.5 L453.1 136.1 L455.2 138.2 L457.8 139.8 L460.6 141.2 L463.5 142.4 L466.3 143.4 L469.3 144.2 L472.4 144.9 L475.4 145.5 L478.4 146.0 L481.4 146.4 L484.4 146.7 L487.4 147.0 L490.4 147.3 L493.4 147.5 L496.4 147.7 L499.4 147.8 L502.5 148.0 L505.5 148.1 L508.5 148.3 L511.5 148.4 L514.5 148.5 L515.0 148.5" fill="none" stroke="#158ef1" stroke-width="1.20" stroke-linejoin="round" stroke-linecap="round"/>
<path d="M336.0 136.4 L337.9 134.8 L340.8 135.3 L342.8 132.9 L343.6 130.6 L344.9 133.4 L347.9 132.7 L349.7 130.1 L350.9 127.2 L351.7 124.2 L352.3 121.2 L352.8 117.8 L353.3 114.4 L353.6 111.3 L354.0 108.3 L354.7 105.7 L355.1 108.8 L355.4 112.3 L355.7 115.9 L356.0 119.1 L356.4 122.4 L356.8 125.4 L357.5 128.6 L358.4 131.4 L360.1 133.9 L363.1 134.7 L365.8 133.2 L367.8 130.9 L369.5 128.3 L370.7 125.5 L371.8 122.5 L372.6 119.4 L373.2 116.1 L373.8 112.8 L374.2 109.5 L374.6 106.1 L374.9 103.1 L375.2 99.6 L375.5 95.8 L375.7 92.7 L376.0 89.0 L376.6 92.2 L377.1 95.5 L377.5 99.0 L378.0 102.5 L378.4 105.7 L378.9 108.7 L379.4 111.9 L380.0 115.0 L380.6 118.1 L381.5 121.2 L382.4 124.2 L383.6 127.0 L385.1 129.7 L386.9 132.1 L389.2 134.1 L391.9 135.6 L394.8 136.7 L397.7 137.3 L400.8 137.7 L403.8 137.8 L406.8 137.8 L409.9 137.6 L412.9 137.2 L415.9 136.7 L418.8 136.0 L421.7 135.1 L424.5 134.0 L427.3 132.6 L429.8 131.0 L432.1 129.0 L434.1 126.7 L435.7 124.2 L437.2 121.5 L438.3 118.7 L439.2 115.8 L440.0 112.9 L440.7 109.9 L441.3 106.9 L441.7 104.0 L442.1 100.9 L441.7 97.9 L440.6 95.1 L439.5 92.2 L438.4 89.4 L437.3 86.6 L436.2 83.7 L435.1 80.8 L434.0 77.9 L432.9 75.1 L431.8 72.3 L430.7 69.4 L429.7 66.5 L428.6 63.6 L427.6 60.8 L426.6 57.9 L425.6 55.0 L424.6 52.2 L423.8 49.3 L422.9 46.4 L422.3 43.4 L422.5 42.5 L423.6 45.2 L424.8 48.1 L426.0 50.9 L427.1 53.8 L428.3 56.6 L429.5 59.4 L430.7 62.1 L431.9 65.0 L433.1 67.9 L434.4 70.7 L435.6 73.5 L436.8 76.3 L438.1 79.1 L439.4 81.9 L440.7 84.7 L442.0 87.4 L443.3 90.2 L444.7 92.9 L446.1 95.6 L447.6 98.2 L449.1 100.6 L449.7 103.6 L450.1 107.0 L450.4 110.3 L450.7 113.6 L451.3 117.4 L452.0 120.9 L453.1 124.0 L454.4 126.8 L455.8 129.7 L457.6 132.2 L459.9 134.3 L462.5 136.0 L465.2 137.4 L468.1 138.7 L471.0 139.7 L474.0 140.5 L477.0 141.2 L480.0 141.8 L483.0 142.3 L486.0 142.8 L489.0 143.2 L492.1 143.5 L495.1 143.8 L498.1 144.0 L501.1 144.2 L504.1 144.4 L507.1 144.6 L510.1 144.7 L513.1 144.9 L516.1 145.0 L518.7 145.2" fill="none" stroke="#1979ee" stroke-width="1.20" stroke-linejoin="round" stroke-linecap="round"/>
<path d="M339.7 132.6 L341.6 130.8 L344.5 131.4 L346.5 129.1 L347.4 126.3 L347.5 126.2 L348.7 129.0 L351.6 128.4 L353.3 125.9 L354.4 123.1 L355.3 120.0 L355.9 116.9 L356.4 113.5 L356.7 110.4 L357.1 107.2 L357.5 103.8 L357.9 100.6 L358.4 98.7 L358.8 101.7 L359.1 105.5 L359.3 108.5 L359.6 112.2 L359.9 115.4 L360.3 118.6 L360.8 122.0 L361.5 125.0 L362.5 127.8 L364.4 130.3 L367.3 130.9 L369.9 129.3 L371.9 127.0 L373.5 124.4 L374.8 121.6 L375.8 118.5 L376.6 115.4 L377.3 112.0 L377.8 108.8 L378.3 105.4 L378.6 102.0 L378.9 98.9 L379.2 95.5 L379.5 91.6 L379.8 88.4 L380.0 85.3 L380.1 83.7 L380.7 86.8 L381.2 90.2 L381.5 93.2 L381.9 96.2 L382.3 99.6 L382.8 102.8 L383.3 106.2 L383.8 109.3 L384.4 112.3 L385.2 115.5 L386.0 118.4 L387.0 121.4 L388.3 124.2 L389.9 126.8 L391.9 129.1 L394.3 131.0 L397.1 132.3 L400.0 133.2 L402.9 133.8 L406.0 134.0 L409.0 134.0 L412.0 133.9 L415.1 133.5 L418.0 133.0 L421.0 132.4 L423.9 131.5 L426.7 130.5 L429.4 129.2 L432.0 127.6 L434.4 125.7 L436.4 123.5 L438.3 121.1 L439.8 118.5 L441.0 115.7 L442.1 112.8 L442.9 109.9 L443.7 107.0 L444.3 104.0 L444.8 101.1 L445.3 98.0 L445.7 95.0 L446.0 92.0 L445.3 89.1 L444.2 86.2 L443.2 83.2 L442.2 80.4 L441.2 77.5 L440.2 74.6 L439.2 71.7 L438.2 68.9 L437.2 66.0 L436.2 63.2 L435.2 60.2 L434.2 57.3 L433.2 54.5 L432.3 51.6 L431.3 48.6 L430.4 45.7 L429.6 42.7 L428.8 39.8 L428.2 36.9 L428.4 35.9 L429.5 38.8 L430.6 41.7 L431.7 44.6 L432.9 47.4 L434.0 50.3 L435.2 53.1 L436.3 55.9 L437.4 58.7 L438.6 61.6 L439.8 64.4 L441.0 67.3 L442.2 70.0 L443.4 72.9 L444.7 75.7 L445.9 78.5 L447.2 81.3 L448.5 84.0 L449.8 86.8 L451.2 89.5 L452.8 92.1 L453.3 95.1 L453.8 98.3 L454.0 101.5 L454.3 105.3 L454.7 108.8 L455.3 112.6 L455.9 115.9 L457.0 118.8 L458.3 121.7 L459.5 124.6 L461.1 127.3 L463.2 129.5 L465.7 131.3 L468.3 132.8 L471.0 134.2 L473.9 135.4 L476.7 136.3 L479.8 137.1 L482.8 137.8 L485.8 138.4 L488.8 138.9 L491.8 139.3 L494.8 139.7 L497.8 140.0 L500.8 140.3 L503.8 140.6 L506.8 140.8 L509.9 141.0 L512.9 141.2 L515.9 141.4 L518.9 141.6 L521.9 141.8 L522.4 141.8" fill="none" stroke="#1e64eb" stroke-width="1.20" stroke-linejoin="round" stroke-linecap="round"/>
<line x1="317.50" y1="160.40" x2="500.50" y2="163.70" stroke="#3a3a3a" stroke-width="0.90"/>
<line x1="500.50" y1="163.70" x2="526.40" y2="140.65" stroke="#3a3a3a" stroke-width="0.90"/>
<line x1="317.50" y1="160.40" x2="317.50" y2="28.10" stroke="#3a3a3a" stroke-width="0.90"/>
<line x1="317.50" y1="160.40" x2="320.70" y2="160.40" stroke="#3a3a3a" stroke-width="0.80"/>
<text x="314.50" y="164.20" text-anchor="end" font-size="9.80" font-weight="normal" font-style="normal">0</text>
<line x1="317.50" y1="122.73" x2="320.70" y2="122.73" stroke="#3a3a3a" stroke-width="0.80"/>
<text x="314.50" y="126.03" text-anchor="end" font-size="9.80" font-weight="normal" font-style="normal">0.8</text>
<line x1="317.50" y1="85.07" x2="320.70" y2="85.07" stroke="#3a3a3a" stroke-width="0.80"/>
<text x="314.50" y="88.37" text-anchor="end" font-size="9.80" font-weight="normal" font-style="normal">1.6</text>
<line x1="317.50" y1="47.40" x2="320.70" y2="47.40" stroke="#3a3a3a" stroke-width="0.80"/>
<text x="314.50" y="50.70" text-anchor="end" font-size="9.80" font-weight="normal" font-style="normal">2.4</text>
<line x1="387.88" y1="161.67" x2="391.88" y2="158.17" stroke="#3a3a3a" stroke-width="0.90"/>
<line x1="458.27" y1="162.94" x2="462.27" y2="159.44" stroke="#3a3a3a" stroke-width="0.90"/>
<text x="316.30" y="172.60" text-anchor="middle" font-size="9.80" font-weight="normal" font-style="normal">0.2</text>
<text x="386.08" y="173.27" text-anchor="middle" font-size="9.80" font-weight="normal" font-style="normal">0.7</text>
<text x="457.07" y="174.54" text-anchor="middle" font-size="9.80" font-weight="normal" font-style="normal">1.2</text>
<line x1="513.45" y1="152.18" x2="509.45" y2="152.18" stroke="#3a3a3a" stroke-width="0.80"/>
<text x="510.70" y="173.30" text-anchor="middle" font-size="9.80" font-weight="normal" font-style="normal">100</text>
<text x="523.25" y="162.18" text-anchor="middle" font-size="9.80" font-weight="normal" font-style="normal">170</text>
<text x="535.80" y="151.25" text-anchor="middle" font-size="9.80" font-weight="normal" font-style="normal">240</text>
<text x="513.20" y="181.70" text-anchor="middle" font-size="9.80" font-weight="normal" font-style="normal">Torque NM</text>
<text x="295.20" y="95.85" text-anchor="middle" font-size="9.80" font-weight="normal" font-style="normal" transform="rotate(-90 295.20 95.85)">Amplitude A<tspan font-size="7.8" dy="3.3">rms</tspan></text>
<text x="409.20" y="194.50" text-anchor="middle" font-size="9.80" font-weight="normal" font-style="normal">Frequency <tspan font-style="italic">&#969;</tspan></text>
<text x="417.00" y="210.50" text-anchor="middle" font-size="11.20" font-weight="bold" font-style="normal">(b)</text>
<text x="502.10" y="25.55" text-anchor="middle" font-size="9.80" font-weight="normal" font-style="normal">ETC</text>
<line x1="428.40" y1="36.50" x2="428.40" y2="30.20" stroke="#ff00ff" stroke-width="0.90"/>
<polygon points="428.40,27.00 430.30,31.20 426.50,31.20" fill="#ff00ff"/>
<text x="430.00" y="26.90" text-anchor="middle" font-size="9.80" font-weight="normal" font-style="normal">PR</text>
<line x1="358.30" y1="102.00" x2="358.30" y2="95.70" stroke="#ff00ff" stroke-width="0.90"/>
<polygon points="358.30,92.50 360.20,96.70 356.40,96.70" fill="#ff00ff"/>
<text x="359.60" y="94.30" text-anchor="middle" font-size="9.80" font-weight="normal" font-style="normal">SP-HR</text>
<line x1="380.30" y1="82.50" x2="380.30" y2="76.20" stroke="#ff00ff" stroke-width="0.90"/>
<polygon points="380.30,73.00 382.20,77.20 378.40,77.20" fill="#ff00ff"/>
<text x="382.00" y="74.30" text-anchor="middle" font-size="9.80" font-weight="normal" font-style="normal">SP-HR</text>
<line x1="34.50" y1="349.03" x2="60.40" y2="325.98" stroke="#dedede" stroke-width="0.80"/>
<line x1="60.40" y1="325.98" x2="243.40" y2="329.28" stroke="#dedede" stroke-width="0.80"/>
<line x1="34.50" y1="311.57" x2="60.40" y2="288.52" stroke="#dedede" stroke-width="0.80"/>
<line x1="60.40" y1="288.52" x2="243.40" y2="291.82" stroke="#dedede" stroke-width="0.80"/>
<line x1="34.50" y1="274.10" x2="60.40" y2="251.05" stroke="#dedede" stroke-width="0.80"/>
<line x1="60.40" y1="251.05" x2="243.40" y2="254.35" stroke="#dedede" stroke-width="0.80"/>
<line x1="104.88" y1="387.77" x2="130.78" y2="364.72" stroke="#dedede" stroke-width="0.80"/>
<line x1="130.78" y1="364.72" x2="130.78" y2="233.12" stroke="#dedede" stroke-width="0.80"/>
<line x1="175.27" y1="389.04" x2="201.17" y2="365.99" stroke="#dedede" stroke-width="0.80"/>
<line x1="201.17" y1="365.99" x2="201.17" y2="234.39" stroke="#dedede" stroke-width="0.80"/>
<line x1="47.45" y1="374.98" x2="230.45" y2="378.27" stroke="#dedede" stroke-width="0.80"/>
<line x1="47.45" y1="374.98" x2="47.45" y2="243.38" stroke="#dedede" stroke-width="0.80"/>
<line x1="60.40" y1="363.45" x2="243.40" y2="366.75" stroke="#666666" stroke-width="0.90"/>
<line x1="34.50" y1="386.50" x2="60.40" y2="363.45" stroke="#3a3a3a" stroke-width="0.90"/>
<line x1="60.40" y1="363.45" x2="60.40" y2="231.85" stroke="#3a3a3a" stroke-width="0.90"/>
<line x1="60.40" y1="231.85" x2="243.40" y2="235.15" stroke="#3a3a3a" stroke-width="0.90"/>
<line x1="34.50" y1="254.90" x2="60.40" y2="231.85" stroke="#3a3a3a" stroke-width="0.90"/>
<line x1="243.40" y1="366.75" x2="243.40" y2="235.15" stroke="#a0a0a0" stroke-width="0.90"/>
<path d="M34.5 381.2 L37.5 381.1 L40.5 381.0 L43.5 380.9 L46.6 380.7 L49.6 380.4 L52.6 379.8 L53.5 379.6 L56.3 380.8 L59.3 380.8 L62.3 380.6 L65.3 380.3 L68.3 379.7 L71.3 378.8 L71.9 378.7 L73.7 381.1 L76.7 381.7 L79.7 381.9 L82.7 381.9 L85.8 382.0 L88.8 381.9 L91.8 381.9 L94.8 381.8 L97.8 381.7 L100.8 381.6 L103.8 381.4 L106.8 381.2 L109.8 380.9 L112.8 380.5 L115.8 380.0 L118.8 379.4 L121.7 378.5 L124.6 377.4 L127.2 376.0 L129.6 374.2 L131.7 371.9 L133.3 369.4 L134.6 366.7 L135.6 363.8 L136.4 360.9 L135.9 357.9 L133.7 355.8 L131.5 353.6 L129.5 351.4 L127.4 349.2 L125.4 347.0 L123.4 344.6 L121.4 342.2 L119.4 339.8 L117.5 337.4 L115.5 334.9 L113.7 332.5 L111.9 330.1 L110.1 327.6 L108.3 325.1 L106.6 322.6 L104.8 320.0 L103.2 317.5 L101.6 314.9 L100.2 312.2 L100.2 310.1 L102.0 312.6 L103.8 315.0 L105.7 317.5 L107.5 319.9 L109.4 322.3 L111.2 324.6 L113.2 327.1 L115.2 329.5 L117.1 331.9 L119.1 334.3 L121.0 336.6 L123.0 338.9 L125.0 341.3 L127.1 343.6 L129.1 345.9 L131.2 348.1 L133.3 350.4 L135.5 352.6 L137.6 354.7 L139.9 356.9 L142.1 358.9 L144.5 360.9 L146.9 362.9 L149.4 364.6 L152.1 366.2 L153.2 367.8 L154.2 370.7 L155.3 373.6 L157.0 376.1 L159.5 378.0 L162.2 379.3 L165.1 380.2 L168.0 381.1 L171.0 382.0 L174.0 382.8 L177.0 383.6 L180.0 384.3 L183.0 384.9 L186.0 385.4 L189.1 385.9 L192.1 386.3 L195.1 386.7 L198.1 386.9 L201.1 387.1 L204.1 387.3 L207.1 387.4 L210.1 387.5 L213.1 387.6 L216.1 387.7 L217.2 387.7" fill="none" stroke="#00eeff" stroke-width="1.20" stroke-linejoin="round" stroke-linecap="round"/>
<path d="M38.2 377.3 L41.2 377.2 L44.2 377.1 L47.2 376.9 L50.3 376.7 L53.3 376.3 L56.2 375.6 L57.2 375.4 L59.9 376.8 L62.9 376.8 L65.9 376.6 L69.0 376.2 L72.0 375.6 L74.8 374.6 L75.9 374.2 L77.4 376.8 L80.4 377.7 L83.4 377.9 L86.4 377.9 L89.4 377.9 L92.4 377.9 L95.4 377.8 L98.4 377.8 L101.4 377.6 L104.4 377.4 L107.4 377.2 L110.4 376.9 L113.5 376.5 L116.5 376.0 L119.4 375.4 L122.3 374.6 L125.2 373.6 L127.9 372.3 L130.5 370.7 L132.7 368.7 L134.7 366.4 L136.2 363.9 L137.5 361.1 L138.5 358.3 L139.4 355.4 L140.0 352.4 L139.2 349.5 L137.3 347.3 L135.4 344.9 L133.5 342.5 L131.7 340.2 L129.8 337.7 L128.0 335.2 L126.2 332.7 L124.5 330.2 L122.8 327.8 L121.1 325.3 L119.4 322.7 L117.7 320.2 L116.1 317.6 L114.5 315.0 L112.9 312.3 L111.3 309.7 L109.8 307.0 L108.4 304.4 L107.1 301.6 L107.1 299.3 L108.8 301.9 L110.5 304.5 L112.2 307.1 L114.0 309.6 L115.7 312.1 L117.4 314.6 L119.2 317.1 L121.0 319.6 L122.8 322.1 L124.6 324.6 L126.5 327.1 L128.3 329.5 L130.2 332.0 L132.1 334.4 L134.0 336.8 L136.0 339.1 L138.0 341.5 L140.0 343.9 L142.0 346.1 L144.1 348.4 L146.2 350.6 L148.4 352.7 L150.7 354.8 L153.1 356.7 L155.7 358.3 L156.8 360.0 L157.6 363.0 L158.5 366.2 L159.8 369.1 L161.7 371.5 L164.2 373.4 L166.9 374.7 L169.8 375.8 L172.6 376.8 L175.5 377.8 L178.4 378.6 L181.4 379.5 L184.4 380.3 L187.4 381.0 L190.4 381.6 L193.4 382.1 L196.4 382.6 L199.5 382.9 L202.5 383.2 L205.5 383.5 L208.5 383.6 L211.5 383.8 L214.5 383.9 L217.5 384.0 L220.5 384.1 L220.9 384.2" fill="none" stroke="#06d2fb" stroke-width="1.20" stroke-linejoin="round" stroke-linecap="round"/>
<path d="M41.9 373.3 L44.9 373.2 L47.9 373.1 L50.9 372.9 L54.0 372.6 L57.0 372.2 L59.9 371.4 L60.8 371.1 L63.4 372.7 L66.4 372.7 L69.4 372.5 L72.4 372.1 L75.4 371.5 L78.2 370.5 L80.0 369.7 L81.3 372.4 L84.1 373.6 L87.1 373.8 L90.1 373.9 L93.2 373.9 L96.2 373.8 L99.2 373.7 L102.2 373.5 L105.2 373.3 L108.2 373.1 L111.2 372.7 L114.2 372.3 L117.2 371.7 L120.2 371.1 L123.1 370.3 L126.0 369.2 L128.8 367.9 L131.3 366.4 L133.7 364.5 L135.8 362.3 L137.6 359.9 L139.0 357.2 L140.2 354.5 L141.3 351.6 L142.1 348.7 L142.8 345.8 L143.3 342.8 L141.9 340.1 L140.3 337.5 L138.6 335.0 L137.0 332.4 L135.4 329.9 L133.7 327.2 L132.2 324.6 L130.6 321.9 L129.0 319.3 L127.5 316.6 L126.0 314.0 L124.5 311.3 L123.0 308.7 L121.5 306.0 L120.0 303.2 L118.6 300.5 L117.2 297.8 L115.8 295.1 L114.5 292.4 L113.2 289.7 L112.0 286.9 L111.0 284.1 L111.2 282.2 L112.6 284.9 L114.2 287.6 L115.7 290.2 L117.2 292.9 L118.8 295.5 L120.3 298.1 L122.0 300.8 L123.6 303.5 L125.2 306.2 L126.8 308.8 L128.5 311.4 L130.1 313.9 L131.7 316.5 L133.5 319.1 L135.2 321.7 L136.9 324.2 L138.6 326.7 L140.4 329.3 L142.2 331.8 L144.0 334.2 L146.0 336.7 L147.9 339.1 L149.8 341.5 L151.8 343.8 L153.9 346.0 L156.1 348.1 L158.6 350.0 L159.2 350.4 L160.5 352.6 L161.3 356.1 L162.1 359.4 L163.1 362.3 L164.6 365.1 L166.8 367.4 L169.4 369.2 L172.1 370.5 L175.0 371.7 L177.8 372.8 L180.7 373.8 L183.6 374.7 L186.6 375.6 L189.6 376.4 L192.6 377.1 L195.6 377.8 L198.6 378.3 L201.7 378.8 L204.7 379.2 L207.7 379.5 L210.7 379.8 L213.7 380.0 L216.7 380.2 L219.7 380.3 L222.7 380.4 L224.6 380.5" fill="none" stroke="#0bbbf8" stroke-width="1.20" stroke-linejoin="round" stroke-linecap="round"/>
<path d="M45.6 369.4 L48.6 369.3 L51.6 369.1 L54.6 368.9 L57.7 368.6 L60.7 368.1 L63.6 367.2 L64.5 366.9 L66.9 368.7 L69.9 368.7 L72.9 368.5 L75.9 368.1 L78.9 367.4 L81.7 366.4 L84.2 365.1 L85.2 368.0 L87.9 369.4 L90.9 369.7 L93.9 369.8 L96.9 369.8 L99.9 369.7 L102.9 369.5 L106.0 369.3 L109.0 369.1 L112.0 368.7 L115.0 368.3 L118.0 367.8 L120.9 367.1 L123.9 366.3 L126.7 365.3 L129.5 364.1 L132.2 362.7 L134.7 360.9 L136.9 358.8 L138.9 356.5 L140.6 354.0 L142.0 351.4 L143.2 348.6 L144.2 345.7 L145.0 342.8 L145.8 339.8 L146.4 336.8 L146.3 333.7 L144.9 331.0 L143.4 328.3 L142.0 325.6 L140.5 322.9 L139.1 320.2 L137.7 317.4 L136.3 314.7 L134.8 312.0 L133.4 309.2 L132.0 306.4 L130.6 303.6 L129.2 300.8 L127.8 298.0 L126.5 295.3 L125.2 292.6 L123.9 289.9 L122.6 287.1 L121.3 284.3 L120.1 281.5 L118.9 278.7 L117.8 275.9 L116.8 273.1 L116.7 270.1 L118.0 272.8 L119.4 275.5 L120.8 278.2 L122.3 281.0 L123.7 283.8 L125.2 286.5 L126.7 289.3 L128.2 292.0 L129.7 294.6 L131.1 297.3 L132.6 299.9 L134.2 302.6 L135.7 305.3 L137.3 308.0 L138.9 310.6 L140.4 313.2 L142.1 315.8 L143.7 318.5 L145.4 321.0 L147.1 323.7 L148.9 326.2 L150.6 328.7 L152.4 331.2 L154.2 333.6 L156.2 336.0 L158.2 338.4 L160.3 340.6 L162.8 342.6 L164.0 344.7 L164.7 347.8 L165.4 351.1 L166.1 354.1 L167.0 357.1 L168.4 359.8 L170.5 362.2 L172.9 364.1 L175.7 365.7 L178.4 366.9 L181.3 368.1 L184.1 369.2 L187.0 370.2 L189.9 371.1 L192.9 372.0 L195.9 372.8 L198.9 373.5 L201.9 374.2 L204.9 374.7 L208.0 375.1 L211.0 375.5 L214.0 375.9 L217.0 376.1 L220.0 376.3 L223.0 376.5 L226.0 376.7 L228.3 376.9" fill="none" stroke="#10a4f4" stroke-width="1.20" stroke-linejoin="round" stroke-linecap="round"/>
<path d="M49.3 365.5 L52.3 365.3 L55.3 365.1 L58.3 364.9 L61.4 364.5 L64.4 364.0 L67.2 363.0 L68.2 362.7 L70.5 364.6 L73.5 364.7 L76.5 364.4 L79.5 364.0 L82.4 363.3 L85.3 362.3 L87.9 360.8 L88.3 360.6 L89.2 363.6 L91.7 365.3 L94.7 365.7 L97.8 365.7 L100.8 365.7 L103.8 365.5 L106.8 365.3 L109.8 365.1 L112.8 364.7 L115.8 364.3 L118.8 363.8 L121.8 363.1 L124.7 362.3 L127.6 361.3 L130.4 360.1 L133.1 358.7 L135.7 357.0 L138.0 355.1 L140.1 352.9 L142.0 350.5 L143.5 348.0 L144.9 345.3 L146.1 342.5 L147.0 339.6 L147.9 336.7 L148.7 333.7 L149.3 330.8 L149.9 327.8 L149.9 324.8 L148.9 321.9 L147.8 319.0 L146.7 316.1 L145.6 313.2 L144.5 310.3 L143.4 307.5 L142.3 304.6 L141.2 301.7 L140.1 298.9 L138.9 296.0 L137.8 293.2 L136.7 290.4 L135.6 287.6 L134.5 284.7 L133.4 281.7 L132.3 278.9 L131.3 276.0 L130.3 273.2 L129.2 270.3 L128.3 267.4 L127.3 264.5 L126.5 261.6 L125.8 258.6 L126.0 256.6 L127.1 259.5 L128.3 262.4 L129.6 265.2 L130.8 268.1 L132.0 270.9 L133.2 273.7 L134.4 276.4 L135.7 279.3 L137.0 282.2 L138.3 285.0 L139.5 287.8 L140.8 290.6 L142.1 293.3 L143.5 296.2 L144.8 299.0 L146.2 301.8 L147.6 304.5 L148.9 307.2 L150.4 310.0 L151.8 312.7 L153.2 315.4 L154.8 318.1 L156.3 320.7 L157.9 323.4 L159.5 326.0 L161.2 328.5 L163.0 331.1 L165.0 333.5 L166.6 335.0 L167.9 337.8 L168.6 341.5 L169.2 345.1 L169.9 348.5 L170.9 351.6 L172.2 354.4 L174.2 357.0 L176.5 359.1 L179.1 360.7 L181.8 362.1 L184.6 363.4 L187.4 364.5 L190.3 365.6 L193.2 366.6 L196.1 367.5 L199.1 368.4 L202.1 369.1 L205.1 369.8 L208.1 370.4 L211.1 371.0 L214.1 371.4 L217.1 371.8 L220.1 372.2 L223.1 372.4 L226.2 372.7 L229.2 372.9 L232.0 373.1" fill="none" stroke="#158ef1" stroke-width="1.20" stroke-linejoin="round" stroke-linecap="round"/>
<path d="M53.0 361.6 L56.0 361.4 L59.0 361.2 L62.0 360.9 L65.1 360.5 L68.0 359.9 L70.9 358.8 L71.8 358.4 L73.9 360.6 L77.0 360.7 L80.0 360.4 L83.0 360.0 L85.9 359.3 L88.8 358.2 L91.4 356.7 L92.4 356.1 L93.2 359.1 L95.4 361.1 L98.4 361.6 L101.5 361.7 L104.5 361.6 L107.5 361.4 L110.5 361.2 L113.5 360.9 L116.5 360.5 L119.5 360.0 L122.5 359.4 L125.4 358.6 L128.3 357.7 L131.1 356.6 L133.8 355.4 L136.5 353.8 L139.0 352.0 L141.3 350.0 L143.3 347.7 L145.1 345.3 L146.6 342.7 L148.0 340.0 L149.1 337.2 L150.1 334.3 L151.0 331.4 L151.7 328.5 L152.4 325.5 L153.0 322.5 L153.4 319.5 L153.0 316.5 L152.1 313.5 L151.2 310.6 L150.3 307.6 L149.3 304.7 L148.3 301.7 L147.3 298.8 L146.3 295.8 L145.3 293.0 L144.3 290.1 L143.3 287.2 L142.2 284.3 L141.2 281.4 L140.1 278.4 L139.1 275.6 L138.1 272.6 L137.0 269.7 L136.1 266.8 L135.1 263.9 L134.1 261.0 L133.2 258.1 L132.4 255.2 L131.6 252.3 L131.0 249.4 L131.3 247.9 L132.4 250.8 L133.5 253.7 L134.7 256.6 L135.9 259.5 L137.0 262.3 L138.2 265.1 L139.3 267.9 L140.6 270.8 L141.8 273.7 L143.0 276.6 L144.3 279.4 L145.5 282.2 L146.7 285.0 L148.0 287.9 L149.3 290.7 L150.6 293.5 L152.0 296.3 L153.3 299.0 L154.6 301.8 L156.0 304.5 L157.4 307.2 L158.8 310.0 L160.3 312.6 L161.8 315.3 L163.4 318.0 L165.0 320.6 L166.7 323.1 L168.7 325.6 L170.3 327.2 L171.6 330.4 L172.1 333.6 L172.7 337.0 L173.2 340.1 L173.9 343.5 L174.9 346.5 L176.2 349.4 L178.0 351.9 L180.2 354.1 L182.7 355.8 L185.4 357.4 L188.1 358.7 L191.0 359.9 L193.9 361.1 L196.7 362.1 L199.6 363.0 L202.6 363.9 L205.6 364.7 L208.6 365.5 L211.7 366.1 L214.7 366.7 L217.7 367.2 L220.7 367.7 L223.7 368.1 L226.7 368.5 L229.7 368.8 L232.7 369.0 L235.7 369.3" fill="none" stroke="#1979ee" stroke-width="1.20" stroke-linejoin="round" stroke-linecap="round"/>
<path d="M56.7 357.6 L59.7 357.4 L62.7 357.2 L65.7 356.9 L68.8 356.4 L71.7 355.8 L74.5 354.6 L75.4 354.2 L77.4 356.5 L80.4 356.7 L83.4 356.4 L86.4 356.0 L89.3 355.3 L92.2 354.2 L94.8 352.7 L96.6 351.5 L97.3 354.6 L99.3 356.9 L102.2 357.5 L105.2 357.6 L108.2 357.5 L111.2 357.3 L114.3 357.1 L117.3 356.7 L120.3 356.2 L123.3 355.6 L126.2 354.9 L129.2 354.1 L132.0 353.1 L134.8 351.9 L137.5 350.4 L140.1 348.8 L142.4 346.9 L144.6 344.7 L146.6 342.4 L148.3 339.9 L149.8 337.3 L151.1 334.5 L152.2 331.7 L153.2 328.9 L154.1 326.0 L154.8 323.0 L155.5 320.0 L156.1 317.0 L156.7 314.0 L156.6 310.9 L156.0 308.0 L155.3 305.0 L154.6 302.0 L153.8 299.1 L153.0 296.1 L152.2 293.2 L151.4 290.3 L150.5 287.3 L149.6 284.3 L148.6 281.4 L147.7 278.4 L146.7 275.5 L145.8 272.6 L144.8 269.6 L143.8 266.7 L142.9 263.8 L141.9 260.8 L141.0 258.0 L140.1 255.1 L139.2 252.2 L138.4 249.3 L137.6 246.4 L136.9 243.4 L136.3 240.5 L136.6 239.1 L137.6 242.2 L138.7 245.1 L139.8 248.0 L141.0 250.9 L142.1 253.7 L143.2 256.6 L144.3 259.4 L145.5 262.3 L146.6 265.2 L147.8 268.1 L149.0 271.0 L150.2 273.8 L151.4 276.6 L152.6 279.5 L153.8 282.4 L155.1 285.2 L156.3 288.0 L157.6 290.8 L158.9 293.6 L160.2 296.4 L161.5 299.1 L162.9 301.8 L164.3 304.5 L165.8 307.3 L167.3 310.0 L168.9 312.7 L170.5 315.3 L172.4 317.8 L174.0 319.5 L175.1 322.3 L175.7 325.6 L176.2 329.4 L176.8 332.8 L177.3 336.1 L178.1 339.4 L179.2 342.5 L180.7 345.3 L182.7 347.8 L185.0 350.0 L187.4 351.7 L190.2 353.2 L192.9 354.5 L195.8 355.8 L198.7 356.9 L201.5 357.9 L204.4 358.8 L207.4 359.7 L210.4 360.5 L213.4 361.3 L216.5 362.0 L219.5 362.6 L222.5 363.2 L225.5 363.7 L228.5 364.2 L231.5 364.6 L234.5 364.9 L237.5 365.2 L239.4 365.4" fill="none" stroke="#1e64eb" stroke-width="1.20" stroke-linejoin="round" stroke-linecap="round"/>
<line x1="34.50" y1="386.50" x2="217.50" y2="389.80" stroke="#3a3a3a" stroke-width="0.90"/>
<line x1="217.50" y1="389.80" x2="243.40" y2="366.75" stroke="#3a3a3a" stroke-width="0.90"/>
<line x1="34.50" y1="386.50" x2="34.50" y2="254.90" stroke="#3a3a3a" stroke-width="0.90"/>
<line x1="34.50" y1="386.50" x2="37.70" y2="386.50" stroke="#3a3a3a" stroke-width="0.80"/>
<text x="31.50" y="390.30" text-anchor="end" font-size="9.80" font-weight="normal" font-style="normal">0</text>
<line x1="34.50" y1="349.03" x2="37.70" y2="349.03" stroke="#3a3a3a" stroke-width="0.80"/>
<text x="31.50" y="352.33" text-anchor="end" font-size="9.80" font-weight="normal" font-style="normal">0.8</text>
<line x1="34.50" y1="311.57" x2="37.70" y2="311.57" stroke="#3a3a3a" stroke-width="0.80"/>
<text x="31.50" y="314.87" text-anchor="end" font-size="9.80" font-weight="normal" font-style="normal">1.6</text>
<line x1="34.50" y1="274.10" x2="37.70" y2="274.10" stroke="#3a3a3a" stroke-width="0.80"/>
<text x="31.50" y="277.40" text-anchor="end" font-size="9.80" font-weight="normal" font-style="normal">2.4</text>
<line x1="104.88" y1="387.77" x2="108.88" y2="384.27" stroke="#3a3a3a" stroke-width="0.90"/>
<line x1="175.27" y1="389.04" x2="179.27" y2="385.54" stroke="#3a3a3a" stroke-width="0.90"/>
<text x="33.30" y="398.70" text-anchor="middle" font-size="9.80" font-weight="normal" font-style="normal">0.2</text>
<text x="103.08" y="399.37" text-anchor="middle" font-size="9.80" font-weight="normal" font-style="normal">0.7</text>
<text x="174.07" y="400.64" text-anchor="middle" font-size="9.80" font-weight="normal" font-style="normal">1.2</text>
<line x1="230.45" y1="378.27" x2="226.45" y2="378.27" stroke="#3a3a3a" stroke-width="0.80"/>
<text x="227.70" y="399.40" text-anchor="middle" font-size="9.80" font-weight="normal" font-style="normal">100</text>
<text x="240.25" y="388.27" text-anchor="middle" font-size="9.80" font-weight="normal" font-style="normal">170</text>
<text x="252.80" y="377.35" text-anchor="middle" font-size="9.80" font-weight="normal" font-style="normal">240</text>
<text x="230.20" y="407.80" text-anchor="middle" font-size="9.80" font-weight="normal" font-style="normal">Torque NM</text>
<text x="12.20" y="322.30" text-anchor="middle" font-size="9.80" font-weight="normal" font-style="normal" transform="rotate(-90 12.20 322.30)">Amplitude A<tspan font-size="7.1" dy="3.3">1</tspan></text>
<text x="126.20" y="420.00" text-anchor="middle" font-size="9.80" font-weight="normal" font-style="normal">Frequency <tspan font-style="italic">&#969;</tspan></text>
<text x="134.00" y="436.00" text-anchor="middle" font-size="11.20" font-weight="bold" font-style="normal">(c)</text>
<text x="219.10" y="252.35" text-anchor="middle" font-size="9.80" font-weight="normal" font-style="normal">NO ETC</text>
<line x1="136.00" y1="242.60" x2="124.00" y2="242.60" stroke="#ff00ff" stroke-width="0.90"/>
<polygon points="120.80,242.60 125.00,240.70 125.00,244.50" fill="#ff00ff"/>
<text x="120.20" y="246.00" text-anchor="end" font-size="9.80" font-weight="normal" font-style="normal">PR</text>
<line x1="96.00" y1="353.50" x2="96.00" y2="346.20" stroke="#ff00ff" stroke-width="0.90"/>
<polygon points="96.00,343.00 97.90,347.20 94.10,347.20" fill="#ff00ff"/>
<text x="97.20" y="343.60" text-anchor="middle" font-size="9.80" font-weight="normal" font-style="normal">SP-HR</text>
<line x1="317.50" y1="348.69" x2="343.40" y2="325.64" stroke="#dedede" stroke-width="0.80"/>
<line x1="343.40" y1="325.64" x2="526.40" y2="328.94" stroke="#dedede" stroke-width="0.80"/>
<line x1="317.50" y1="310.49" x2="343.40" y2="287.44" stroke="#dedede" stroke-width="0.80"/>
<line x1="343.40" y1="287.44" x2="526.40" y2="290.74" stroke="#dedede" stroke-width="0.80"/>
<line x1="317.50" y1="272.28" x2="343.40" y2="249.23" stroke="#dedede" stroke-width="0.80"/>
<line x1="343.40" y1="249.23" x2="526.40" y2="252.53" stroke="#dedede" stroke-width="0.80"/>
<line x1="387.88" y1="388.17" x2="413.78" y2="365.12" stroke="#dedede" stroke-width="0.80"/>
<line x1="413.78" y1="365.12" x2="413.78" y2="230.92" stroke="#dedede" stroke-width="0.80"/>
<line x1="458.27" y1="389.44" x2="484.17" y2="366.39" stroke="#dedede" stroke-width="0.80"/>
<line x1="484.17" y1="366.39" x2="484.17" y2="232.19" stroke="#dedede" stroke-width="0.80"/>
<line x1="330.45" y1="375.38" x2="513.45" y2="378.68" stroke="#dedede" stroke-width="0.80"/>
<line x1="330.45" y1="375.38" x2="330.45" y2="241.18" stroke="#dedede" stroke-width="0.80"/>
<line x1="343.40" y1="363.85" x2="526.40" y2="367.15" stroke="#666666" stroke-width="0.90"/>
<line x1="317.50" y1="386.90" x2="343.40" y2="363.85" stroke="#3a3a3a" stroke-width="0.90"/>
<line x1="343.40" y1="363.85" x2="343.40" y2="229.65" stroke="#3a3a3a" stroke-width="0.90"/>
<line x1="343.40" y1="229.65" x2="526.40" y2="232.95" stroke="#3a3a3a" stroke-width="0.90"/>
<line x1="317.50" y1="252.70" x2="343.40" y2="229.65" stroke="#3a3a3a" stroke-width="0.90"/>
<line x1="526.40" y1="367.15" x2="526.40" y2="232.95" stroke="#a0a0a0" stroke-width="0.90"/>
<path d="M317.5 383.4 L320.6 383.4 L323.6 383.4 L326.6 383.3 L329.7 383.2 L332.7 382.9 L335.7 382.5 L338.6 383.4 L341.6 383.4 L344.7 383.3 L347.7 383.2 L350.7 382.8 L353.7 382.3 L355.4 382.0 L357.8 383.8 L360.8 384.2 L363.8 384.3 L366.9 384.4 L369.9 384.4 L372.9 384.4 L376.0 384.4 L379.0 384.4 L382.0 384.3 L385.1 384.3 L388.1 384.2 L391.2 384.0 L394.2 383.9 L397.2 383.7 L400.3 383.4 L403.3 383.0 L406.3 382.5 L409.3 381.9 L412.2 381.1 L414.9 379.9 L417.5 378.4 L419.7 376.3 L421.4 373.8 L422.7 371.0 L423.6 368.2 L422.1 365.6 L420.0 363.4 L417.9 361.2 L415.9 358.9 L414.0 356.5 L412.0 354.2 L410.1 351.8 L408.2 349.4 L406.3 346.9 L404.5 344.5 L402.6 342.0 L400.8 339.6 L399.1 337.1 L397.3 334.6 L395.6 332.1 L394.0 329.5 L392.5 326.9 L392.5 325.4 L394.4 327.8 L396.3 330.3 L398.2 332.7 L400.1 335.1 L402.0 337.5 L403.9 339.9 L405.8 342.3 L407.7 344.6 L409.7 347.0 L411.7 349.4 L413.6 351.7 L415.6 354.1 L417.6 356.3 L419.7 358.7 L421.7 360.9 L423.8 363.2 L425.9 365.4 L428.2 367.6 L430.5 369.5 L431.6 372.3 L432.4 375.3 L433.6 378.0 L435.8 380.1 L438.3 382.1 L441.1 383.3 L444.1 384.1 L447.2 384.8 L450.2 385.4 L453.2 385.9 L456.2 386.3 L459.2 386.7 L462.2 387.0 L465.2 387.2 L468.2 387.5 L471.2 387.6 L474.2 387.8 L477.3 387.9 L480.3 388.0 L483.3 388.1 L486.3 388.1 L489.3 388.2 L492.3 388.3 L495.3 388.3 L498.3 388.4 L500.2 388.5" fill="none" stroke="#00eeff" stroke-width="1.20" stroke-linejoin="round" stroke-linecap="round"/>
<path d="M321.2 379.9 L324.3 379.8 L327.3 379.8 L330.3 379.7 L333.4 379.5 L336.4 379.2 L339.4 378.7 L339.7 378.7 L342.6 379.7 L345.6 379.8 L348.7 379.7 L351.7 379.4 L354.7 379.1 L357.7 378.5 L359.5 378.0 L361.6 380.1 L364.7 380.6 L367.7 380.7 L370.7 380.8 L373.8 380.8 L376.8 380.8 L379.8 380.7 L382.9 380.7 L385.9 380.6 L388.9 380.5 L392.0 380.4 L395.0 380.2 L398.0 380.0 L401.1 379.7 L404.1 379.3 L407.1 378.8 L410.1 378.2 L413.1 377.5 L415.9 376.4 L418.6 375.1 L421.0 373.3 L423.0 371.0 L424.6 368.5 L425.8 365.7 L426.8 362.8 L427.5 359.9 L426.1 357.1 L424.1 354.8 L422.3 352.4 L420.5 350.0 L418.7 347.5 L417.0 345.0 L415.3 342.5 L413.5 340.0 L411.8 337.4 L410.1 334.8 L408.4 332.2 L406.8 329.6 L405.2 327.1 L403.6 324.5 L402.0 321.9 L400.5 319.2 L399.1 316.5 L399.2 314.6 L400.9 317.2 L402.6 319.7 L404.3 322.2 L406.0 324.6 L407.8 327.2 L409.6 329.7 L411.4 332.2 L413.2 334.7 L415.0 337.2 L416.7 339.7 L418.5 342.1 L420.4 344.6 L422.3 347.0 L424.1 349.4 L426.1 351.8 L428.0 354.2 L430.0 356.6 L432.0 358.8 L434.2 360.9 L435.2 363.7 L435.8 367.2 L436.6 370.2 L438.0 373.0 L440.0 375.3 L442.4 377.4 L445.1 378.8 L448.0 379.8 L450.9 380.7 L453.9 381.4 L456.9 382.1 L459.9 382.6 L462.9 383.0 L465.9 383.4 L468.9 383.7 L471.9 383.9 L474.9 384.1 L477.9 384.3 L481.0 384.4 L484.0 384.6 L487.0 384.7 L490.0 384.8 L493.0 384.8 L496.0 384.9 L499.0 385.0 L502.0 385.1 L503.9 385.1" fill="none" stroke="#06d2fb" stroke-width="1.20" stroke-linejoin="round" stroke-linecap="round"/>
<path d="M324.9 376.3 L328.0 376.2 L331.0 376.2 L334.0 376.0 L337.1 375.9 L340.1 375.5 L343.1 375.0 L343.4 374.9 L346.2 376.1 L349.3 376.1 L352.3 376.0 L355.3 375.8 L358.4 375.4 L361.3 374.7 L363.6 374.0 L365.5 376.4 L368.5 376.9 L371.5 377.1 L374.6 377.2 L377.6 377.2 L380.6 377.2 L383.7 377.2 L386.7 377.1 L389.7 377.0 L392.8 376.9 L395.8 376.7 L398.8 376.5 L401.9 376.3 L404.9 375.9 L407.9 375.5 L410.9 375.0 L413.9 374.3 L416.8 373.4 L419.6 372.3 L422.2 370.8 L424.5 368.9 L426.5 366.6 L428.0 364.0 L429.2 361.2 L430.2 358.3 L430.9 355.3 L431.5 352.4 L430.6 349.5 L428.7 347.1 L427.0 344.5 L425.4 342.0 L423.8 339.4 L422.1 336.8 L420.5 334.2 L419.0 331.6 L417.4 329.0 L415.8 326.3 L414.3 323.7 L412.8 321.0 L411.3 318.3 L409.9 315.6 L408.5 312.9 L407.3 310.2 L407.5 308.7 L409.1 311.2 L410.7 313.8 L412.4 316.3 L414.0 319.0 L415.7 321.6 L417.4 324.1 L419.1 326.7 L420.7 329.2 L422.4 331.7 L424.2 334.3 L425.9 336.8 L427.6 339.3 L429.4 341.8 L431.2 344.3 L433.1 346.7 L435.0 349.1 L437.0 351.4 L438.0 352.5 L438.8 355.4 L439.3 358.5 L439.9 362.1 L440.7 365.1 L442.2 367.9 L444.0 370.3 L446.1 372.6 L448.7 374.2 L451.5 375.4 L454.4 376.5 L457.3 377.4 L460.3 378.1 L463.3 378.7 L466.3 379.2 L469.3 379.6 L472.3 380.0 L475.3 380.3 L478.4 380.6 L481.4 380.8 L484.4 381.0 L487.4 381.1 L490.4 381.2 L493.4 381.3 L496.4 381.4 L499.4 381.5 L502.4 381.6 L505.4 381.7 L507.6 381.8" fill="none" stroke="#0bbbf8" stroke-width="1.20" stroke-linejoin="round" stroke-linecap="round"/>
<path d="M328.6 372.7 L331.7 372.6 L334.7 372.5 L337.7 372.4 L340.8 372.2 L343.8 371.8 L346.8 371.2 L347.2 371.1 L349.9 372.4 L353.0 372.5 L356.0 372.3 L359.0 372.1 L362.1 371.7 L365.0 371.0 L367.8 370.1 L369.5 372.6 L372.4 373.3 L375.5 373.4 L378.5 373.5 L381.5 373.5 L384.6 373.5 L387.6 373.4 L390.6 373.3 L393.7 373.2 L396.7 373.0 L399.7 372.8 L402.8 372.5 L405.8 372.1 L408.8 371.7 L411.8 371.1 L414.8 370.5 L417.6 369.6 L420.5 368.5 L423.2 367.1 L425.6 365.4 L427.8 363.3 L429.6 360.9 L431.1 358.3 L432.2 355.5 L433.2 352.6 L433.9 349.6 L434.5 346.7 L435.0 343.7 L434.0 340.7 L432.4 338.2 L430.9 335.5 L429.4 332.9 L428.0 330.3 L426.5 327.6 L425.0 324.9 L423.6 322.2 L422.2 319.5 L420.7 316.8 L419.3 314.1 L417.9 311.3 L416.5 308.6 L415.2 305.9 L413.9 303.2 L412.6 300.4 L411.4 297.6 L410.4 294.8 L410.5 293.5 L412.0 296.3 L413.5 298.9 L415.0 301.6 L416.5 304.2 L418.0 306.9 L419.5 309.5 L421.1 312.2 L422.6 314.8 L424.2 317.5 L425.8 320.1 L427.3 322.7 L429.0 325.3 L430.6 328.0 L432.2 330.5 L433.9 333.0 L435.6 335.6 L437.3 338.2 L439.1 340.6 L441.0 343.0 L441.7 343.8 L442.5 346.9 L442.9 350.5 L443.3 353.8 L444.0 357.3 L445.0 360.4 L446.6 363.3 L448.3 365.9 L450.3 368.2 L452.9 370.0 L455.7 371.3 L458.5 372.5 L461.4 373.5 L464.4 374.3 L467.4 374.9 L470.4 375.5 L473.4 376.0 L476.4 376.4 L479.5 376.7 L482.5 377.0 L485.5 377.3 L488.5 377.5 L491.5 377.6 L494.5 377.8 L497.5 377.9 L500.5 378.0 L503.5 378.2 L506.5 378.3 L509.6 378.4 L511.3 378.4" fill="none" stroke="#10a4f4" stroke-width="1.20" stroke-linejoin="round" stroke-linecap="round"/>
<path d="M332.3 369.1 L335.4 369.0 L338.4 368.9 L341.4 368.8 L344.5 368.5 L347.5 368.1 L350.5 367.4 L350.9 367.3 L353.6 368.8 L356.6 368.8 L359.6 368.7 L362.7 368.4 L365.7 368.0 L368.7 367.2 L371.5 366.2 L371.8 366.0 L373.3 368.7 L376.2 369.6 L379.2 369.8 L382.3 369.8 L385.3 369.8 L388.3 369.8 L391.4 369.7 L394.4 369.5 L397.4 369.3 L400.5 369.1 L403.5 368.8 L406.5 368.4 L409.6 368.0 L412.5 367.4 L415.5 366.7 L418.4 365.9 L421.3 364.8 L424.0 363.5 L426.6 361.9 L428.9 360.0 L431.0 357.8 L432.7 355.3 L434.1 352.6 L435.2 349.8 L436.1 346.9 L436.9 343.9 L437.5 340.9 L438.1 337.9 L438.5 334.9 L437.8 331.9 L436.6 329.1 L435.4 326.3 L434.2 323.5 L433.0 320.7 L431.8 317.8 L430.7 315.0 L429.5 312.1 L428.3 309.3 L427.2 306.4 L426.0 303.6 L424.9 300.8 L423.8 297.9 L422.7 295.1 L421.6 292.3 L420.6 289.4 L419.5 286.5 L418.6 283.6 L417.8 280.7 L418.0 279.3 L419.2 282.0 L420.5 284.8 L421.7 287.6 L423.0 290.4 L424.2 293.2 L425.5 296.1 L426.8 298.9 L428.1 301.6 L429.3 304.4 L430.6 307.1 L432.0 309.9 L433.3 312.7 L434.6 315.5 L436.0 318.2 L437.4 320.9 L438.8 323.7 L440.2 326.4 L441.7 329.1 L443.2 331.7 L444.8 334.3 L445.4 335.1 L446.1 338.2 L446.5 341.3 L446.8 344.3 L447.2 347.6 L447.7 350.8 L448.5 354.1 L449.9 356.9 L451.4 359.8 L453.1 362.4 L455.2 364.6 L457.8 366.2 L460.6 367.6 L463.5 368.8 L466.3 369.8 L469.3 370.7 L472.4 371.3 L475.4 371.9 L478.4 372.4 L481.4 372.9 L484.4 373.2 L487.4 373.5 L490.4 373.8 L493.4 374.0 L496.4 374.2 L499.4 374.4 L502.5 374.5 L505.5 374.7 L508.5 374.8 L511.5 374.9 L514.5 375.1 L515.0 375.1" fill="none" stroke="#158ef1" stroke-width="1.20" stroke-linejoin="round" stroke-linecap="round"/>
<path d="M336.0 365.5 L339.1 365.4 L342.1 365.3 L345.1 365.1 L348.2 364.9 L351.2 364.4 L354.2 363.6 L354.7 363.6 L357.3 365.1 L360.3 365.2 L363.3 365.0 L366.4 364.7 L369.4 364.3 L372.4 363.5 L375.2 362.4 L376.0 362.0 L377.2 364.8 L380.1 365.9 L383.1 366.1 L386.1 366.2 L389.2 366.1 L392.2 366.1 L395.2 365.9 L398.3 365.8 L401.3 365.5 L404.3 365.2 L407.4 364.9 L410.4 364.4 L413.4 363.9 L416.3 363.2 L419.3 362.4 L422.2 361.5 L425.0 360.3 L427.6 358.8 L430.1 357.1 L432.3 355.0 L434.3 352.7 L435.9 350.2 L437.2 347.5 L438.4 344.7 L439.3 341.8 L440.0 338.9 L440.7 335.9 L441.3 332.9 L441.7 329.9 L442.1 326.8 L441.7 323.8 L440.6 320.9 L439.5 318.0 L438.4 315.1 L437.3 312.3 L436.2 309.4 L435.1 306.5 L434.0 303.7 L433.0 300.8 L431.9 297.9 L430.8 295.1 L429.8 292.2 L428.7 289.3 L427.7 286.4 L426.6 283.5 L425.7 280.7 L424.7 277.8 L423.8 274.9 L422.9 272.0 L422.3 269.1 L422.5 268.1 L423.6 270.9 L424.8 273.8 L426.0 276.6 L427.1 279.4 L428.3 282.3 L429.5 285.1 L430.7 287.8 L431.9 290.7 L433.1 293.6 L434.4 296.4 L435.6 299.2 L436.8 302.0 L438.1 304.7 L439.4 307.6 L440.7 310.3 L441.9 313.1 L443.3 315.9 L444.6 318.6 L446.0 321.3 L447.5 324.0 L449.1 326.4 L449.7 329.5 L450.1 333.0 L450.4 336.3 L450.7 339.7 L451.3 343.5 L451.8 346.5 L452.8 349.5 L454.2 352.5 L455.5 355.4 L457.2 358.1 L459.4 360.3 L462.0 362.0 L464.7 363.5 L467.4 364.8 L470.3 365.9 L473.3 366.8 L476.3 367.5 L479.3 368.2 L482.3 368.7 L485.4 369.2 L488.4 369.6 L491.4 369.9 L494.4 370.2 L497.4 370.4 L500.4 370.7 L503.4 370.9 L506.4 371.1 L509.4 371.2 L512.4 371.4 L515.5 371.5 L518.5 371.7 L518.7 371.7" fill="none" stroke="#1979ee" stroke-width="1.20" stroke-linejoin="round" stroke-linecap="round"/>
<path d="M339.7 361.9 L342.8 361.8 L345.8 361.7 L348.8 361.5 L351.9 361.2 L354.9 360.7 L357.8 359.9 L358.4 359.7 L360.8 361.5 L363.8 361.6 L366.9 361.4 L369.9 361.1 L372.9 360.6 L375.9 359.9 L378.7 358.7 L380.1 358.1 L381.2 360.9 L384.0 362.2 L387.0 362.5 L390.0 362.5 L393.1 362.5 L396.1 362.4 L399.1 362.3 L402.2 362.1 L405.2 361.8 L408.2 361.5 L411.3 361.1 L414.2 360.6 L417.2 360.0 L420.2 359.2 L423.0 358.4 L425.9 357.3 L428.6 356.0 L431.2 354.5 L433.6 352.7 L435.8 350.5 L437.7 348.2 L439.3 345.6 L440.6 342.9 L441.7 340.0 L442.6 337.2 L443.4 334.2 L444.1 331.3 L444.6 328.3 L445.1 325.3 L445.5 322.3 L445.8 319.2 L445.7 316.2 L444.7 313.3 L443.7 310.4 L442.7 307.6 L441.7 304.6 L440.8 301.8 L439.8 298.9 L438.8 296.0 L437.7 293.1 L436.8 290.2 L435.8 287.4 L434.8 284.4 L433.8 281.5 L432.8 278.6 L431.9 275.7 L430.9 272.8 L430.1 270.0 L429.2 267.0 L428.5 264.1 L428.8 262.6 L429.9 265.5 L431.1 268.4 L432.2 271.3 L433.3 274.2 L434.5 277.0 L435.6 279.9 L436.8 282.7 L437.9 285.4 L439.1 288.3 L440.3 291.2 L441.5 294.0 L442.6 296.8 L443.9 299.6 L445.1 302.4 L446.4 305.2 L447.7 308.0 L448.9 310.7 L450.3 313.4 L451.7 316.2 L452.8 317.9 L453.3 321.0 L453.8 324.2 L454.0 327.5 L454.3 331.3 L454.7 334.9 L455.3 338.7 L455.9 342.0 L457.0 345.0 L458.3 348.0 L459.5 350.9 L461.1 353.6 L463.2 355.8 L465.7 357.6 L468.3 359.2 L471.0 360.7 L473.9 361.9 L476.7 362.8 L479.8 363.6 L482.8 364.2 L485.8 364.8 L488.8 365.4 L491.8 365.8 L494.8 366.2 L497.8 366.5 L500.8 366.8 L503.8 367.1 L506.8 367.3 L509.9 367.5 L512.9 367.7 L515.9 367.9 L518.9 368.1 L521.9 368.3 L522.4 368.3" fill="none" stroke="#1e64eb" stroke-width="1.20" stroke-linejoin="round" stroke-linecap="round"/>
<line x1="317.50" y1="386.90" x2="500.50" y2="390.20" stroke="#3a3a3a" stroke-width="0.90"/>
<line x1="500.50" y1="390.20" x2="526.40" y2="367.15" stroke="#3a3a3a" stroke-width="0.90"/>
<line x1="317.50" y1="386.90" x2="317.50" y2="252.70" stroke="#3a3a3a" stroke-width="0.90"/>
<line x1="317.50" y1="386.90" x2="320.70" y2="386.90" stroke="#3a3a3a" stroke-width="0.80"/>
<text x="314.50" y="390.70" text-anchor="end" font-size="9.80" font-weight="normal" font-style="normal">0</text>
<line x1="317.50" y1="348.69" x2="320.70" y2="348.69" stroke="#3a3a3a" stroke-width="0.80"/>
<text x="314.50" y="351.99" text-anchor="end" font-size="9.80" font-weight="normal" font-style="normal">0.8</text>
<line x1="317.50" y1="310.49" x2="320.70" y2="310.49" stroke="#3a3a3a" stroke-width="0.80"/>
<text x="314.50" y="313.79" text-anchor="end" font-size="9.80" font-weight="normal" font-style="normal">1.6</text>
<line x1="317.50" y1="272.28" x2="320.70" y2="272.28" stroke="#3a3a3a" stroke-width="0.80"/>
<text x="314.50" y="275.58" text-anchor="end" font-size="9.80" font-weight="normal" font-style="normal">2.4</text>
<line x1="387.88" y1="388.17" x2="391.88" y2="384.67" stroke="#3a3a3a" stroke-width="0.90"/>
<line x1="458.27" y1="389.44" x2="462.27" y2="385.94" stroke="#3a3a3a" stroke-width="0.90"/>
<text x="316.30" y="399.10" text-anchor="middle" font-size="9.80" font-weight="normal" font-style="normal">0.2</text>
<text x="386.08" y="399.77" text-anchor="middle" font-size="9.80" font-weight="normal" font-style="normal">0.7</text>
<text x="457.07" y="401.04" text-anchor="middle" font-size="9.80" font-weight="normal" font-style="normal">1.2</text>
<line x1="513.45" y1="378.68" x2="509.45" y2="378.68" stroke="#3a3a3a" stroke-width="0.80"/>
<text x="510.70" y="399.80" text-anchor="middle" font-size="9.80" font-weight="normal" font-style="normal">100</text>
<text x="523.25" y="388.68" text-anchor="middle" font-size="9.80" font-weight="normal" font-style="normal">170</text>
<text x="535.80" y="377.75" text-anchor="middle" font-size="9.80" font-weight="normal" font-style="normal">240</text>
<text x="513.20" y="408.20" text-anchor="middle" font-size="9.80" font-weight="normal" font-style="normal">Torque NM</text>
<text x="295.20" y="321.40" text-anchor="middle" font-size="9.80" font-weight="normal" font-style="normal" transform="rotate(-90 295.20 321.40)">Amplitude A<tspan font-size="7.1" dy="3.3">1</tspan></text>
<text x="409.20" y="420.50" text-anchor="middle" font-size="9.80" font-weight="normal" font-style="normal">Frequency <tspan font-style="italic">&#969;</tspan></text>
<text x="417.00" y="436.50" text-anchor="middle" font-size="11.20" font-weight="bold" font-style="normal">(d)</text>
<text x="502.10" y="250.15" text-anchor="middle" font-size="9.80" font-weight="normal" font-style="normal">ETC</text>
<line x1="429.00" y1="260.80" x2="429.00" y2="254.20" stroke="#ff00ff" stroke-width="0.90"/>
<polygon points="429.00,251.00 430.90,255.20 427.10,255.20" fill="#ff00ff"/>
<text x="430.10" y="250.50" text-anchor="middle" font-size="9.80" font-weight="normal" font-style="normal">PR</text>
<line x1="380.60" y1="360.00" x2="380.60" y2="351.80" stroke="#ff00ff" stroke-width="0.90"/>
<polygon points="380.60,348.60 382.50,352.80 378.70,352.80" fill="#ff00ff"/>
<text x="382.80" y="348.60" text-anchor="middle" font-size="9.80" font-weight="normal" font-style="normal">SP-HR</text>
<line x1="34.50" y1="580.78" x2="60.40" y2="555.83" stroke="#dedede" stroke-width="0.80"/>
<line x1="60.40" y1="555.83" x2="244.20" y2="559.13" stroke="#dedede" stroke-width="0.80"/>
<line x1="34.50" y1="536.66" x2="60.40" y2="511.71" stroke="#dedede" stroke-width="0.80"/>
<line x1="60.40" y1="511.71" x2="244.20" y2="515.01" stroke="#dedede" stroke-width="0.80"/>
<line x1="34.50" y1="492.54" x2="60.40" y2="467.59" stroke="#dedede" stroke-width="0.80"/>
<line x1="60.40" y1="467.59" x2="244.20" y2="470.89" stroke="#dedede" stroke-width="0.80"/>
<line x1="105.19" y1="626.17" x2="131.09" y2="601.22" stroke="#dedede" stroke-width="0.80"/>
<line x1="131.09" y1="601.22" x2="131.09" y2="457.82" stroke="#dedede" stroke-width="0.80"/>
<line x1="175.88" y1="627.44" x2="201.78" y2="602.49" stroke="#dedede" stroke-width="0.80"/>
<line x1="201.78" y1="602.49" x2="201.78" y2="459.09" stroke="#dedede" stroke-width="0.80"/>
<line x1="47.45" y1="612.42" x2="231.25" y2="615.73" stroke="#dedede" stroke-width="0.80"/>
<line x1="47.45" y1="612.42" x2="47.45" y2="469.02" stroke="#dedede" stroke-width="0.80"/>
<line x1="60.40" y1="599.95" x2="244.20" y2="603.25" stroke="#666666" stroke-width="0.90"/>
<line x1="34.50" y1="624.90" x2="60.40" y2="599.95" stroke="#3a3a3a" stroke-width="0.90"/>
<line x1="60.40" y1="599.95" x2="60.40" y2="456.55" stroke="#3a3a3a" stroke-width="0.90"/>
<line x1="60.40" y1="456.55" x2="244.20" y2="459.85" stroke="#3a3a3a" stroke-width="0.90"/>
<line x1="34.50" y1="481.50" x2="60.40" y2="456.55" stroke="#3a3a3a" stroke-width="0.90"/>
<line x1="244.20" y1="603.25" x2="244.20" y2="459.85" stroke="#a0a0a0" stroke-width="0.90"/>
<path d="M34.5 617.4 L37.5 617.1 L40.5 616.2 L41.3 615.9 L44.4 616.2 L47.2 615.0 L49.6 613.2 L50.9 612.1 L51.4 615.4 L53.7 617.3 L56.3 615.6 L58.3 613.1 L59.8 610.5 L61.1 607.7 L62.2 604.9 L63.3 602.0 L64.3 599.0 L65.2 595.9 L66.1 592.8 L66.9 589.7 L67.6 586.5 L68.3 583.2 L68.8 580.0 L69.3 576.8 L69.8 573.8 L70.2 570.6 L70.6 567.1 L71.0 564.0 L71.4 560.7 L71.7 557.5 L72.0 555.7 L73.0 558.8 L73.7 561.9 L74.2 564.8 L74.8 567.9 L75.4 570.9 L76.0 574.2 L76.7 577.3 L77.3 580.2 L78.1 583.3 L78.8 586.3 L79.7 589.3 L80.6 592.3 L81.7 595.2 L82.9 598.1 L84.3 600.9 L85.9 603.6 L87.7 606.1 L89.7 608.4 L91.9 610.5 L94.4 612.4 L97.0 614.0 L99.7 615.3 L102.5 616.5 L105.4 617.5 L108.3 618.3 L111.3 619.0 L114.2 619.7 L117.3 620.2 L120.3 620.7 L123.3 621.1 L126.3 621.5 L129.3 621.9 L132.3 622.2 L135.3 622.4 L132.3 622.3 L129.2 622.1 L126.2 621.7 L123.2 621.2 L120.2 620.6 L117.3 619.7 L114.5 618.6 L111.9 617.2 L109.4 615.4 L107.2 613.3 L105.2 611.0 L103.4 608.5 L101.8 605.7 L101.0 603.3 L103.8 604.6 L106.6 606.0 L109.4 607.4 L112.2 608.7 L114.9 610.1 L117.7 611.4 L120.4 612.7 L123.2 614.1 L125.9 615.4 L128.7 616.7 L131.4 618.0 L134.1 619.4 L136.9 620.7 L139.6 621.9 L142.5 623.1 L145.4 623.8 L148.5 624.2 L151.5 624.3 L154.5 624.4 L157.6 624.5 L160.6 624.6 L163.6 624.7 L166.6 624.7 L169.7 624.8 L172.7 624.9 L175.7 625.0 L178.7 625.1 L181.8 625.1 L184.8 625.2 L187.8 625.3 L190.8 625.4 L193.8 625.4 L196.9 625.5 L199.9 625.6 L202.9 625.7 L205.9 625.7 L209.0 625.8 L212.0 625.9 L215.0 625.9 L218.0 626.0" fill="none" stroke="#00eeff" stroke-width="1.20" stroke-linejoin="round" stroke-linecap="round"/>
<path d="M38.2 611.9 L41.2 611.7 L44.1 610.8 L45.0 610.3 L48.0 611.1 L50.8 610.0 L53.3 608.2 L54.8 606.9 L55.1 610.0 L56.9 612.5 L59.6 611.2 L61.6 608.8 L63.2 606.1 L64.5 603.2 L65.6 600.3 L66.6 597.4 L67.6 594.4 L68.4 591.5 L69.3 588.4 L70.1 585.2 L70.8 582.0 L71.5 578.9 L72.0 575.8 L72.5 572.8 L73.0 569.6 L73.5 566.5 L73.9 563.1 L74.3 560.0 L74.6 556.8 L75.0 553.3 L75.3 549.7 L75.7 546.0 L76.1 542.8 L76.1 542.6 L77.0 545.5 L77.6 548.5 L78.2 551.7 L78.7 554.7 L79.2 557.8 L79.7 560.7 L80.2 564.0 L80.8 567.2 L81.4 570.1 L82.0 573.3 L82.8 576.5 L83.5 579.4 L84.3 582.4 L85.1 585.3 L86.1 588.3 L87.2 591.1 L88.4 593.9 L89.8 596.6 L91.4 599.2 L93.2 601.7 L95.2 604.0 L97.4 606.1 L99.9 608.0 L102.5 609.6 L105.2 611.0 L108.0 612.2 L110.9 613.3 L113.8 614.1 L116.7 614.9 L119.7 615.6 L122.6 616.2 L125.7 616.7 L128.7 617.1 L131.7 617.6 L134.6 617.9 L137.6 618.3 L134.6 618.2 L131.6 617.8 L128.6 617.3 L125.6 616.6 L122.7 615.6 L120.0 614.3 L117.4 612.7 L115.1 610.7 L113.1 608.4 L111.3 605.9 L109.8 603.2 L108.4 600.3 L107.9 598.4 L110.7 599.8 L113.4 601.3 L116.1 602.8 L118.8 604.3 L121.4 605.8 L124.1 607.2 L126.8 608.7 L129.4 610.1 L132.1 611.6 L134.7 613.0 L137.4 614.5 L140.0 615.9 L142.7 617.3 L145.5 618.7 L148.3 619.7 L151.3 620.3 L154.4 620.5 L157.4 620.6 L160.4 620.7 L163.5 620.8 L166.5 620.9 L169.5 621.0 L172.5 621.1 L175.6 621.2 L178.6 621.3 L181.6 621.4 L184.6 621.4 L187.6 621.5 L190.7 621.6 L193.7 621.7 L196.7 621.8 L199.7 621.8 L202.8 621.9 L205.8 622.0 L208.8 622.1 L211.8 622.1 L214.9 622.2 L217.9 622.3 L220.9 622.4 L221.7 622.4" fill="none" stroke="#06d2fb" stroke-width="1.20" stroke-linejoin="round" stroke-linecap="round"/>
<path d="M41.9 606.4 L44.9 606.3 L47.8 605.3 L48.7 604.8 L51.5 605.9 L54.4 605.0 L56.9 603.2 L58.6 601.7 L59.0 604.9 L60.6 607.4 L63.3 606.1 L65.2 603.8 L66.7 601.0 L68.0 598.1 L69.0 595.2 L70.0 592.2 L70.8 589.3 L71.6 586.4 L72.4 583.3 L73.1 580.3 L73.9 577.0 L74.5 573.8 L75.1 570.8 L75.7 567.5 L76.2 564.3 L76.6 561.3 L77.0 558.1 L77.5 554.6 L77.8 551.4 L78.2 548.0 L78.5 544.3 L78.8 541.2 L79.1 537.9 L79.4 534.5 L79.7 531.1 L80.0 527.8 L80.3 525.5 L81.1 528.5 L81.6 531.9 L82.1 535.2 L82.6 538.2 L83.0 541.2 L83.4 544.3 L83.9 547.2 L84.4 550.6 L84.9 553.8 L85.4 556.9 L86.0 560.2 L86.5 563.4 L87.2 566.6 L87.8 569.6 L88.5 572.7 L89.3 575.8 L90.2 578.8 L91.1 581.7 L92.2 584.7 L93.4 587.5 L94.7 590.2 L96.2 592.9 L97.8 595.5 L99.7 597.9 L101.8 600.1 L104.1 602.1 L106.5 603.9 L109.1 605.5 L111.9 606.9 L114.7 608.1 L117.5 609.2 L120.4 610.1 L123.4 610.9 L126.3 611.6 L129.3 612.2 L132.3 612.7 L135.3 613.2 L138.3 613.7 L141.2 614.1 L138.2 614.0 L135.2 613.6 L132.2 613.0 L129.2 612.2 L126.4 611.1 L123.7 609.6 L121.3 607.8 L119.2 605.6 L117.3 603.2 L115.7 600.6 L114.3 597.8 L113.0 594.9 L111.9 592.0 L112.0 591.1 L114.6 592.7 L117.3 594.4 L119.8 596.1 L122.4 597.7 L124.9 599.3 L127.5 601.0 L130.0 602.6 L132.6 604.2 L135.1 605.8 L137.7 607.5 L140.2 609.1 L142.8 610.7 L145.3 612.3 L147.9 613.9 L150.7 615.3 L153.6 616.2 L156.6 616.6 L159.6 616.8 L162.6 616.9 L165.7 617.0 L168.7 617.1 L171.7 617.2 L174.7 617.3 L177.7 617.4 L180.8 617.5 L183.8 617.6 L186.8 617.7 L189.8 617.8 L192.9 617.9 L195.9 617.9 L198.9 618.0 L201.9 618.1 L205.0 618.2 L208.0 618.3 L211.0 618.4 L214.0 618.4 L217.0 618.5 L220.1 618.6 L223.1 618.7 L225.4 618.7" fill="none" stroke="#0bbbf8" stroke-width="1.20" stroke-linejoin="round" stroke-linecap="round"/>
<path d="M45.6 601.0 L48.6 600.9 L51.5 599.9 L52.4 599.2 L55.0 600.8 L57.9 600.0 L60.4 598.3 L62.4 596.4 L62.8 599.9 L64.3 602.5 L67.1 601.3 L69.0 598.9 L70.4 596.2 L71.7 593.3 L72.7 590.4 L73.6 587.3 L74.5 584.2 L75.3 581.1 L76.0 578.1 L76.7 574.9 L77.3 571.9 L78.0 568.6 L78.6 565.5 L79.1 562.2 L79.7 559.0 L80.2 555.5 L80.6 552.3 L81.0 548.8 L81.4 545.7 L81.7 542.3 L82.1 538.6 L82.4 535.5 L82.7 532.2 L83.0 528.8 L83.3 525.1 L83.5 521.4 L83.8 517.6 L84.1 513.9 L84.4 511.4 L85.1 514.4 L85.6 517.6 L86.1 520.7 L86.5 524.0 L86.9 527.3 L87.4 530.7 L87.8 534.0 L88.2 537.3 L88.6 540.5 L89.1 543.5 L89.6 546.9 L90.1 550.1 L90.6 553.2 L91.2 556.5 L91.7 559.5 L92.4 562.7 L93.1 565.9 L93.8 568.8 L94.6 571.8 L95.5 574.7 L96.5 577.7 L97.6 580.6 L98.8 583.4 L100.2 586.2 L101.7 588.8 L103.4 591.4 L105.3 593.8 L107.4 596.0 L109.7 598.0 L112.2 599.8 L114.8 601.4 L117.5 602.8 L120.3 604.0 L123.2 605.1 L126.1 606.0 L129.0 606.9 L132.0 607.6 L134.9 608.2 L137.9 608.8 L140.8 609.3 L143.8 609.8 L146.8 610.2 L143.8 610.0 L140.8 609.7 L137.8 609.2 L134.8 608.4 L131.9 607.3 L129.3 605.9 L126.8 604.0 L124.7 601.8 L123.0 599.3 L121.4 596.7 L120.1 593.9 L118.9 591.0 L117.9 588.0 L117.5 585.6 L120.1 587.4 L122.7 589.2 L125.2 591.0 L127.7 592.8 L130.1 594.5 L132.6 596.3 L135.2 598.1 L137.7 599.9 L140.2 601.7 L142.8 603.5 L145.3 605.2 L147.8 607.0 L150.3 608.7 L152.9 610.4 L155.6 611.8 L158.6 612.6 L161.7 612.9 L164.7 613.0 L167.7 613.2 L170.7 613.3 L173.7 613.4 L176.8 613.5 L179.8 613.6 L182.8 613.7 L185.8 613.8 L188.9 613.9 L191.9 614.0 L194.9 614.1 L197.9 614.2 L201.0 614.3 L204.0 614.4 L207.0 614.5 L210.0 614.6 L213.1 614.7 L216.1 614.7 L219.1 614.8 L222.1 614.9 L225.1 615.0 L228.2 615.1 L229.1 615.1" fill="none" stroke="#10a4f4" stroke-width="1.20" stroke-linejoin="round" stroke-linecap="round"/>
<path d="M49.3 595.5 L52.3 595.4 L55.2 594.4 L56.1 593.7 L58.5 595.6 L61.4 595.0 L64.0 593.3 L66.2 591.2 L66.3 591.3 L66.6 594.2 L67.4 597.1 L70.5 596.6 L72.4 594.3 L73.9 591.7 L75.0 588.9 L76.0 585.9 L76.9 583.0 L77.7 580.0 L78.4 577.0 L79.1 573.8 L79.8 570.8 L80.4 567.6 L81.0 564.6 L81.6 561.5 L82.1 558.1 L82.6 555.0 L83.1 551.7 L83.6 548.6 L84.0 545.3 L84.4 541.8 L84.8 538.6 L85.2 535.2 L85.5 531.6 L85.8 528.5 L86.1 525.2 L86.4 521.7 L86.7 518.0 L87.0 514.1 L87.2 511.1 L87.4 507.9 L87.6 504.7 L87.8 501.4 L88.0 498.1 L88.2 494.9 L88.5 492.2 L89.2 495.3 L89.6 498.3 L90.0 501.8 L90.4 504.9 L90.8 508.0 L91.1 511.3 L91.5 514.5 L91.8 517.7 L92.2 520.9 L92.6 524.0 L92.9 526.9 L93.4 530.4 L93.8 533.7 L94.2 536.9 L94.7 539.9 L95.2 543.3 L95.7 546.4 L96.2 549.7 L96.8 552.9 L97.5 556.1 L98.1 559.1 L98.8 562.1 L99.6 565.2 L100.5 568.2 L101.4 571.1 L102.5 574.2 L103.6 577.0 L104.9 579.8 L106.4 582.5 L108.0 585.1 L109.8 587.6 L111.7 589.9 L113.9 592.0 L116.2 594.0 L118.6 595.7 L121.2 597.3 L123.9 598.7 L126.7 600.0 L129.6 601.0 L132.4 602.0 L135.4 602.8 L138.3 603.6 L141.3 604.3 L144.2 604.9 L147.2 605.4 L150.2 605.9 L147.2 605.7 L144.2 605.2 L141.3 604.4 L138.6 603.1 L136.1 601.3 L134.0 599.1 L132.3 596.6 L130.9 593.9 L129.7 591.1 L128.7 588.2 L127.8 585.2 L127.0 582.1 L126.8 579.6 L129.2 581.6 L131.6 583.7 L133.9 585.7 L136.1 587.7 L138.4 589.7 L140.7 591.7 L143.0 593.6 L145.3 595.6 L147.5 597.6 L149.8 599.5 L152.1 601.5 L154.5 603.5 L156.8 605.5 L159.2 607.3 L162.1 608.5 L165.1 609.0 L168.1 609.1 L171.1 609.3 L174.2 609.4 L177.2 609.5 L180.2 609.7 L183.2 609.8 L186.2 609.9 L189.3 610.0 L192.3 610.1 L195.3 610.3 L198.3 610.4 L201.4 610.5 L204.4 610.6 L207.4 610.7 L210.4 610.8 L213.5 610.9 L216.5 611.0 L219.5 611.0 L222.5 611.1 L225.5 611.2 L228.6 611.3 L231.6 611.4 L232.8 611.4" fill="none" stroke="#158ef1" stroke-width="1.20" stroke-linejoin="round" stroke-linecap="round"/>
<path d="M53.0 590.1 L56.0 590.1 L58.9 588.9 L59.8 588.2 L61.9 590.4 L64.9 590.0 L67.5 588.5 L69.7 586.4 L70.1 586.1 L70.4 589.3 L71.2 592.2 L74.2 592.1 L76.3 589.8 L77.7 587.1 L78.8 584.3 L79.9 581.3 L80.7 578.3 L81.5 575.2 L82.2 572.2 L82.9 569.2 L83.5 566.1 L84.2 562.8 L84.7 559.8 L85.3 556.5 L85.8 553.5 L86.3 550.4 L86.8 547.0 L87.3 544.0 L87.7 540.7 L88.1 537.2 L88.5 534.1 L88.9 530.8 L89.2 527.2 L89.5 524.2 L89.8 521.0 L90.1 517.6 L90.4 514.0 L90.7 510.2 L90.9 507.2 L91.1 504.0 L91.3 500.8 L91.5 497.4 L91.7 494.0 L91.9 490.5 L92.2 487.0 L92.4 483.6 L92.7 480.9 L93.3 484.1 L93.7 487.4 L94.1 490.4 L94.5 493.7 L94.8 497.1 L95.2 500.5 L95.5 504.0 L95.9 507.4 L96.3 510.8 L96.6 514.0 L97.0 517.2 L97.3 520.4 L97.7 523.3 L98.1 526.8 L98.6 530.1 L99.0 533.2 L99.4 536.2 L99.9 539.5 L100.4 542.5 L101.0 545.8 L101.6 548.9 L102.2 552.1 L102.9 555.0 L103.6 558.0 L104.4 561.0 L105.3 564.0 L106.2 566.9 L107.3 569.8 L108.4 572.7 L109.7 575.4 L111.2 578.1 L112.7 580.7 L114.5 583.2 L116.5 585.6 L118.6 587.8 L120.9 589.7 L123.4 591.5 L126.0 593.1 L128.6 594.6 L131.4 595.8 L134.2 596.9 L137.1 597.9 L139.9 598.8 L142.9 599.6 L145.8 600.3 L148.8 600.9 L151.7 601.5 L148.7 601.3 L145.8 600.5 L143.0 599.2 L140.7 597.3 L138.7 595.0 L137.1 592.5 L135.8 589.7 L134.7 586.9 L133.8 584.0 L133.0 581.0 L132.3 577.9 L132.1 575.4 L134.4 577.4 L136.8 579.6 L139.0 581.6 L141.2 583.7 L143.5 585.8 L145.7 587.9 L148.0 590.0 L150.3 592.0 L152.5 594.1 L154.8 596.1 L157.0 598.2 L159.3 600.2 L161.6 602.2 L164.1 604.0 L167.0 604.9 L170.0 605.2 L173.0 605.4 L176.1 605.6 L179.1 605.7 L182.1 605.9 L185.1 606.0 L188.2 606.1 L191.2 606.3 L194.2 606.4 L197.2 606.5 L200.3 606.6 L203.3 606.7 L206.3 606.8 L209.3 606.9 L212.3 607.0 L215.4 607.2 L218.4 607.2 L221.4 607.3 L224.4 607.4 L227.5 607.5 L230.5 607.6 L233.5 607.7 L236.5 607.8" fill="none" stroke="#1979ee" stroke-width="1.20" stroke-linejoin="round" stroke-linecap="round"/>
<path d="M56.7 584.6 L59.7 584.7 L62.5 583.6 L63.5 582.7 L65.3 585.2 L68.3 585.1 L71.0 583.7 L73.3 581.6 L73.9 581.0 L74.3 584.4 L75.0 587.4 L78.0 587.5 L80.1 585.2 L81.6 582.5 L82.8 579.6 L83.8 576.5 L84.6 573.5 L85.4 570.3 L86.1 567.2 L86.8 564.1 L87.4 560.9 L88.0 557.8 L88.6 554.7 L89.2 551.3 L89.7 548.2 L90.2 545.0 L90.7 541.6 L91.1 538.4 L91.5 535.1 L92.0 531.6 L92.3 528.5 L92.7 525.1 L93.1 521.6 L93.3 518.5 L93.6 515.3 L93.9 511.9 L94.2 508.3 L94.5 504.5 L94.7 501.5 L94.9 498.3 L95.1 495.1 L95.4 491.6 L95.6 488.1 L95.8 484.5 L96.0 480.8 L96.2 477.1 L96.4 473.4 L96.7 470.2 L96.7 469.4 L97.4 472.5 L97.8 475.9 L98.2 479.1 L98.5 482.5 L98.9 486.1 L99.2 489.7 L99.6 493.4 L100.0 497.0 L100.3 500.6 L100.7 504.1 L101.0 507.5 L101.4 510.8 L101.8 514.0 L102.1 517.1 L102.6 520.6 L103.0 524.0 L103.4 527.2 L103.8 530.2 L104.4 533.6 L104.9 536.7 L105.4 540.1 L106.0 543.2 L106.7 546.5 L107.3 549.5 L108.0 552.5 L108.8 555.6 L109.7 558.6 L110.6 561.6 L111.6 564.5 L112.8 567.4 L114.0 570.1 L115.4 572.8 L116.9 575.4 L118.6 578.0 L120.5 580.4 L122.6 582.7 L124.8 584.8 L127.2 586.7 L129.7 588.4 L132.3 589.9 L135.1 591.3 L137.9 592.5 L140.8 593.6 L143.6 594.5 L146.6 595.4 L149.5 596.2 L152.4 596.8 L155.4 597.4 L152.4 597.3 L149.5 596.4 L146.9 594.9 L144.7 592.7 L142.9 590.3 L141.5 587.5 L140.4 584.7 L139.5 581.8 L138.7 578.7 L137.9 575.6 L137.3 572.5 L137.4 571.1 L139.7 573.3 L142.0 575.5 L144.2 577.7 L146.3 579.8 L148.5 581.9 L150.6 584.0 L152.8 586.1 L155.0 588.2 L157.2 590.3 L159.4 592.5 L161.6 594.6 L163.9 596.7 L166.2 598.8 L168.7 600.5 L171.6 601.3 L174.7 601.5 L177.7 601.7 L180.7 601.9 L183.8 602.0 L186.8 602.2 L189.8 602.3 L192.8 602.4 L195.8 602.6 L198.9 602.7 L201.9 602.8 L204.9 603.0 L207.9 603.1 L211.0 603.2 L214.0 603.3 L217.0 603.4 L220.0 603.5 L223.1 603.6 L226.1 603.7 L229.1 603.8 L232.1 603.9 L235.1 604.0 L238.2 604.1 L240.2 604.2" fill="none" stroke="#1e64eb" stroke-width="1.20" stroke-linejoin="round" stroke-linecap="round"/>
<line x1="34.50" y1="624.90" x2="218.30" y2="628.20" stroke="#3a3a3a" stroke-width="0.90"/>
<line x1="218.30" y1="628.20" x2="244.20" y2="603.25" stroke="#3a3a3a" stroke-width="0.90"/>
<line x1="34.50" y1="624.90" x2="34.50" y2="481.50" stroke="#3a3a3a" stroke-width="0.90"/>
<line x1="34.50" y1="624.90" x2="37.70" y2="624.90" stroke="#3a3a3a" stroke-width="0.80"/>
<text x="31.50" y="628.70" text-anchor="end" font-size="9.80" font-weight="normal" font-style="normal">0</text>
<line x1="34.50" y1="580.78" x2="37.70" y2="580.78" stroke="#3a3a3a" stroke-width="0.80"/>
<text x="31.50" y="584.08" text-anchor="end" font-size="9.80" font-weight="normal" font-style="normal">0.4</text>
<line x1="34.50" y1="536.66" x2="37.70" y2="536.66" stroke="#3a3a3a" stroke-width="0.80"/>
<text x="31.50" y="539.96" text-anchor="end" font-size="9.80" font-weight="normal" font-style="normal">0.8</text>
<line x1="34.50" y1="492.54" x2="37.70" y2="492.54" stroke="#3a3a3a" stroke-width="0.80"/>
<text x="31.50" y="495.84" text-anchor="end" font-size="9.80" font-weight="normal" font-style="normal">1.2</text>
<line x1="105.19" y1="626.17" x2="109.19" y2="622.67" stroke="#3a3a3a" stroke-width="0.90"/>
<line x1="175.88" y1="627.44" x2="179.88" y2="623.94" stroke="#3a3a3a" stroke-width="0.90"/>
<text x="33.30" y="637.10" text-anchor="middle" font-size="9.80" font-weight="normal" font-style="normal">0.2</text>
<text x="103.39" y="637.77" text-anchor="middle" font-size="9.80" font-weight="normal" font-style="normal">0.7</text>
<text x="174.68" y="639.04" text-anchor="middle" font-size="9.80" font-weight="normal" font-style="normal">1.2</text>
<line x1="231.25" y1="615.73" x2="227.25" y2="615.73" stroke="#3a3a3a" stroke-width="0.80"/>
<text x="228.50" y="637.80" text-anchor="middle" font-size="9.80" font-weight="normal" font-style="normal">100</text>
<text x="241.05" y="625.73" text-anchor="middle" font-size="9.80" font-weight="normal" font-style="normal">170</text>
<text x="253.60" y="613.85" text-anchor="middle" font-size="9.80" font-weight="normal" font-style="normal">240</text>
<text x="231.00" y="646.20" text-anchor="middle" font-size="9.80" font-weight="normal" font-style="normal">Torque NM</text>
<text x="12.20" y="554.80" text-anchor="middle" font-size="9.80" font-weight="normal" font-style="normal" transform="rotate(-90 12.20 554.80)">Amplitude A<tspan font-size="7.1" dy="3.3">2</tspan></text>
<text x="126.20" y="649.40" text-anchor="middle" font-size="9.80" font-weight="normal" font-style="normal">Frequency <tspan font-style="italic">&#969;</tspan></text>
<text x="134.00" y="666.00" text-anchor="middle" font-size="11.20" font-weight="bold" font-style="normal">(e)</text>
<text x="219.90" y="477.05" text-anchor="middle" font-size="9.80" font-weight="normal" font-style="normal">NO ETC</text>
<line x1="98.00" y1="471.80" x2="112.50" y2="471.80" stroke="#ff00ff" stroke-width="0.90"/>
<polygon points="115.70,471.80 111.50,473.70 111.50,469.90" fill="#ff00ff"/>
<text x="117.00" y="475.20" text-anchor="start" font-size="9.80" font-weight="normal" font-style="normal">SP-HR</text>
<line x1="136.80" y1="571.00" x2="136.80" y2="562.40" stroke="#ff00ff" stroke-width="0.90"/>
<polygon points="136.80,559.20 138.70,563.40 134.90,563.40" fill="#ff00ff"/>
<text x="138.20" y="559.00" text-anchor="middle" font-size="9.80" font-weight="normal" font-style="normal">PR</text>
<line x1="317.50" y1="581.47" x2="343.40" y2="556.52" stroke="#dedede" stroke-width="0.80"/>
<line x1="343.40" y1="556.52" x2="527.20" y2="559.82" stroke="#dedede" stroke-width="0.80"/>
<line x1="317.50" y1="537.84" x2="343.40" y2="512.89" stroke="#dedede" stroke-width="0.80"/>
<line x1="343.40" y1="512.89" x2="527.20" y2="516.19" stroke="#dedede" stroke-width="0.80"/>
<line x1="317.50" y1="494.22" x2="343.40" y2="469.27" stroke="#dedede" stroke-width="0.80"/>
<line x1="343.40" y1="469.27" x2="527.20" y2="472.57" stroke="#dedede" stroke-width="0.80"/>
<line x1="388.19" y1="626.37" x2="414.09" y2="601.42" stroke="#dedede" stroke-width="0.80"/>
<line x1="414.09" y1="601.42" x2="414.09" y2="459.62" stroke="#dedede" stroke-width="0.80"/>
<line x1="458.88" y1="627.64" x2="484.78" y2="602.69" stroke="#dedede" stroke-width="0.80"/>
<line x1="484.78" y1="602.69" x2="484.78" y2="460.89" stroke="#dedede" stroke-width="0.80"/>
<line x1="330.45" y1="612.62" x2="514.25" y2="615.93" stroke="#dedede" stroke-width="0.80"/>
<line x1="330.45" y1="612.62" x2="330.45" y2="470.82" stroke="#dedede" stroke-width="0.80"/>
<line x1="343.40" y1="600.15" x2="527.20" y2="603.45" stroke="#666666" stroke-width="0.90"/>
<line x1="317.50" y1="625.10" x2="343.40" y2="600.15" stroke="#3a3a3a" stroke-width="0.90"/>
<line x1="343.40" y1="600.15" x2="343.40" y2="458.35" stroke="#3a3a3a" stroke-width="0.90"/>
<line x1="343.40" y1="458.35" x2="527.20" y2="461.65" stroke="#3a3a3a" stroke-width="0.90"/>
<line x1="317.50" y1="483.30" x2="343.40" y2="458.35" stroke="#3a3a3a" stroke-width="0.90"/>
<line x1="527.20" y1="603.45" x2="527.20" y2="461.65" stroke="#a0a0a0" stroke-width="0.90"/>
<path d="M317.5 619.4 L320.6 619.0 L323.5 618.2 L324.3 617.8 L327.4 618.1 L330.2 617.0 L332.7 615.4 L333.9 614.6 L334.3 617.7 L335.9 620.2 L339.0 620.0 L341.7 618.5 L343.9 616.4 L345.8 613.9 L347.3 611.3 L348.7 608.6 L349.8 605.7 L350.7 602.6 L351.5 599.6 L352.1 596.7 L352.6 593.5 L353.0 590.4 L353.4 587.3 L353.8 583.6 L354.1 580.3 L354.4 576.6 L354.6 573.4 L354.8 570.0 L355.0 566.4 L355.3 562.5 L355.5 559.0 L355.6 558.4 L356.1 561.3 L356.5 564.5 L356.8 568.1 L357.2 571.7 L357.6 575.2 L357.9 578.5 L358.3 581.6 L358.8 585.1 L359.2 588.2 L359.7 591.4 L360.3 594.7 L361.0 597.8 L361.7 600.7 L362.6 603.7 L363.7 606.6 L365.1 609.3 L366.7 611.9 L368.7 614.2 L371.1 616.1 L373.7 617.6 L376.5 618.9 L379.4 619.8 L382.4 620.6 L385.4 621.2 L388.3 621.6 L391.3 622.1 L394.4 622.4 L397.4 622.7 L400.5 623.0 L403.5 623.2 L406.6 623.4 L409.6 623.6 L412.6 623.8 L415.6 624.0 L418.6 624.1 L421.6 624.2 L418.6 624.0 L415.6 623.8 L412.6 623.4 L409.6 622.9 L406.6 622.1 L403.7 621.1 L401.0 619.7 L398.5 618.0 L396.2 615.8 L394.2 613.3 L393.3 611.3 L396.3 612.3 L399.3 613.4 L402.1 614.5 L405.0 615.6 L407.8 616.7 L410.7 617.8 L413.6 618.9 L416.4 620.0 L419.3 621.0 L422.2 622.1 L425.1 623.2 L427.9 624.3 L430.9 624.9 L434.0 625.0 L437.0 625.1 L440.0 625.1 L443.0 625.2 L446.1 625.3 L449.1 625.3 L452.1 625.4 L455.1 625.5 L458.2 625.5 L461.2 625.6 L464.2 625.7 L467.2 625.7 L470.2 625.8 L473.3 625.9 L476.3 625.9 L479.3 626.0 L482.3 626.0 L485.4 626.1 L488.4 626.2 L491.4 626.2 L494.4 626.3 L497.5 626.4 L500.5 626.4 L501.0 626.4" fill="none" stroke="#00eeff" stroke-width="1.20" stroke-linejoin="round" stroke-linecap="round"/>
<path d="M321.2 614.7 L324.3 614.4 L327.2 613.4 L328.0 612.9 L331.0 613.6 L333.9 612.5 L336.4 610.9 L337.7 609.9 L338.2 613.2 L339.7 615.8 L342.8 615.6 L345.4 614.1 L347.6 611.9 L349.4 609.4 L350.9 606.8 L352.1 604.0 L353.2 601.1 L354.2 598.1 L355.0 594.8 L355.7 591.6 L356.2 588.6 L356.7 585.6 L357.1 582.0 L357.5 578.5 L357.8 575.3 L358.1 571.7 L358.3 568.6 L358.5 565.3 L358.7 561.7 L359.0 557.7 L359.2 553.5 L359.4 549.1 L359.6 545.1 L359.7 544.8 L360.2 548.3 L360.6 552.1 L360.9 555.3 L361.2 558.6 L361.5 561.9 L361.8 565.0 L362.1 568.1 L362.5 571.7 L362.8 575.0 L363.2 578.0 L363.7 581.4 L364.1 584.4 L364.6 587.5 L365.2 590.6 L365.9 593.6 L366.7 596.6 L367.7 599.6 L368.8 602.4 L370.2 605.2 L371.9 607.8 L373.9 610.0 L376.3 611.9 L378.9 613.5 L381.6 614.7 L384.5 615.7 L387.4 616.5 L390.4 617.2 L393.4 617.7 L396.4 618.1 L399.4 618.5 L402.4 618.9 L405.5 619.2 L408.5 619.4 L411.6 619.6 L414.6 619.9 L417.6 620.0 L420.7 620.2 L423.7 620.4 L426.7 620.5 L423.6 620.3 L420.6 620.1 L417.6 619.7 L414.7 619.1 L411.7 618.3 L408.9 617.1 L406.3 615.6 L404.0 613.7 L401.9 611.3 L400.1 608.7 L399.5 606.8 L402.4 607.9 L405.3 609.2 L408.1 610.4 L410.9 611.6 L413.6 612.8 L416.4 614.0 L419.2 615.2 L421.9 616.3 L424.7 617.5 L427.5 618.7 L430.3 619.9 L433.2 621.0 L436.2 621.3 L439.2 621.4 L442.2 621.4 L445.2 621.5 L448.3 621.6 L451.3 621.7 L454.3 621.7 L457.3 621.8 L460.3 621.9 L463.4 621.9 L466.4 622.0 L469.4 622.1 L472.4 622.1 L475.5 622.2 L478.5 622.3 L481.5 622.3 L484.5 622.4 L487.6 622.5 L490.6 622.5 L493.6 622.6 L496.6 622.7 L499.6 622.7 L502.7 622.8 L504.7 622.8" fill="none" stroke="#06d2fb" stroke-width="1.20" stroke-linejoin="round" stroke-linecap="round"/>
<path d="M324.9 610.0 L328.0 609.7 L330.8 608.6 L331.7 608.0 L334.5 609.1 L337.4 608.2 L340.0 606.5 L341.6 605.3 L341.9 608.4 L343.0 611.2 L346.1 611.5 L348.8 610.1 L351.0 608.1 L352.8 605.5 L354.3 602.9 L355.5 600.1 L356.6 597.2 L357.6 594.3 L358.4 591.2 L359.1 588.3 L359.7 585.2 L360.2 581.9 L360.7 578.7 L361.0 575.6 L361.4 571.9 L361.7 568.7 L362.0 564.9 L362.2 561.8 L362.4 558.4 L362.7 554.7 L362.9 550.6 L363.1 546.1 L363.3 543.0 L363.4 539.7 L363.6 536.5 L363.7 533.4 L363.8 532.1 L364.3 535.6 L364.6 538.8 L364.9 542.3 L365.2 546.0 L365.5 549.7 L365.8 553.3 L366.1 556.7 L366.4 560.0 L366.7 563.2 L367.1 566.8 L367.4 570.1 L367.8 573.2 L368.2 576.5 L368.7 579.5 L369.2 582.6 L369.8 585.7 L370.5 588.7 L371.3 591.8 L372.3 594.8 L373.4 597.7 L374.7 600.4 L376.3 603.0 L378.3 605.3 L380.6 607.3 L383.1 609.0 L385.9 610.4 L388.7 611.4 L391.6 612.3 L394.6 613.0 L397.5 613.6 L400.5 614.1 L403.5 614.6 L406.5 614.9 L409.6 615.3 L412.6 615.6 L415.7 615.8 L418.7 616.0 L421.7 616.3 L424.7 616.5 L427.7 616.6 L430.7 616.8 L427.7 616.6 L424.7 616.2 L421.7 615.7 L418.8 614.9 L416.0 613.7 L413.5 612.0 L411.3 609.8 L409.5 607.2 L408.0 604.5 L408.2 604.1 L411.1 605.3 L413.9 606.6 L416.7 607.9 L419.4 609.2 L422.1 610.5 L424.8 611.8 L427.6 613.0 L430.3 614.3 L433.1 615.6 L435.8 616.9 L438.8 617.6 L441.9 617.7 L444.9 617.7 L448.0 617.8 L451.0 617.9 L454.0 618.0 L457.0 618.1 L460.1 618.1 L463.1 618.2 L466.1 618.3 L469.1 618.4 L472.2 618.4 L475.2 618.5 L478.2 618.6 L481.2 618.6 L484.2 618.7 L487.3 618.8 L490.3 618.8 L493.3 618.9 L496.3 619.0 L499.4 619.0 L502.4 619.1 L505.4 619.2 L508.4 619.2" fill="none" stroke="#0bbbf8" stroke-width="1.20" stroke-linejoin="round" stroke-linecap="round"/>
<path d="M328.6 605.4 L331.7 605.0 L334.5 603.9 L335.4 603.2 L338.1 604.6 L340.9 603.8 L343.6 602.1 L345.4 600.6 L345.8 603.9 L346.8 606.8 L349.8 607.2 L352.5 605.8 L354.7 603.6 L356.4 601.0 L357.8 598.3 L359.1 595.4 L360.1 592.6 L361.1 589.5 L361.9 586.5 L362.7 583.2 L363.2 580.2 L363.8 577.1 L364.2 574.0 L364.7 570.4 L365.0 566.9 L365.3 563.8 L365.6 560.3 L365.9 556.4 L366.1 553.1 L366.4 549.5 L366.6 545.5 L366.8 541.2 L367.0 538.1 L367.1 534.7 L367.3 531.3 L367.4 527.6 L367.6 523.9 L367.7 520.1 L367.9 516.7 L367.9 515.6 L368.4 519.0 L368.7 522.6 L368.9 525.6 L369.1 528.8 L369.3 531.9 L369.6 535.1 L369.8 538.3 L370.0 541.3 L370.3 545.2 L370.6 549.0 L370.9 552.5 L371.2 555.8 L371.5 558.9 L371.9 562.4 L372.2 565.7 L372.7 569.2 L373.1 572.4 L373.7 575.7 L374.2 579.0 L374.9 582.2 L375.7 585.3 L376.6 588.4 L377.6 591.4 L378.8 594.1 L380.3 596.9 L382.1 599.4 L384.1 601.7 L386.5 603.6 L389.1 605.2 L391.9 606.6 L394.7 607.6 L397.6 608.5 L400.6 609.2 L403.5 609.8 L406.5 610.3 L409.5 610.8 L412.5 611.2 L415.6 611.5 L418.6 611.8 L421.7 612.1 L424.7 612.3 L427.7 612.6 L430.7 612.8 L433.7 613.0 L430.7 612.7 L427.7 612.3 L424.7 611.7 L421.8 610.7 L419.2 609.3 L416.8 607.5 L414.7 605.2 L413.0 602.5 L411.6 599.7 L411.5 598.6 L414.3 599.9 L417.1 601.4 L419.8 602.8 L422.5 604.2 L425.2 605.7 L427.9 607.1 L430.6 608.5 L433.3 609.9 L436.0 611.3 L438.7 612.6 L441.5 613.8 L444.7 614.0 L447.7 614.1 L450.7 614.1 L453.7 614.2 L456.7 614.3 L459.8 614.4 L462.8 614.5 L465.8 614.6 L468.8 614.6 L471.9 614.7 L474.9 614.8 L477.9 614.9 L480.9 614.9 L484.0 615.0 L487.0 615.1 L490.0 615.1 L493.0 615.2 L496.1 615.3 L499.1 615.3 L502.1 615.4 L505.1 615.5 L508.1 615.5 L511.2 615.6 L512.1 615.6" fill="none" stroke="#10a4f4" stroke-width="1.20" stroke-linejoin="round" stroke-linecap="round"/>
<path d="M332.3 600.7 L335.4 600.3 L338.2 599.1 L339.1 598.3 L341.5 600.1 L344.5 599.3 L347.1 597.8 L349.3 596.0 L349.6 599.4 L350.6 602.3 L353.6 602.8 L356.2 601.4 L358.3 599.1 L360.0 596.5 L361.3 593.7 L362.5 590.7 L363.5 587.7 L364.4 584.8 L365.2 581.7 L366.0 578.4 L366.6 575.4 L367.1 572.5 L367.6 569.0 L368.1 565.7 L368.4 562.5 L368.8 558.9 L369.1 555.7 L369.4 552.1 L369.7 548.0 L369.9 544.7 L370.1 541.0 L370.4 537.0 L370.6 532.5 L370.7 529.4 L370.9 526.0 L371.0 522.4 L371.2 518.5 L371.3 514.5 L371.5 510.3 L371.6 505.9 L371.8 501.5 L371.9 497.2 L372.1 494.6 L372.4 498.0 L372.7 501.0 L372.9 504.3 L373.1 508.0 L373.3 511.7 L373.6 515.4 L373.8 519.2 L374.0 522.8 L374.2 526.4 L374.5 529.8 L374.7 533.1 L374.9 536.3 L375.1 539.3 L375.4 543.1 L375.7 546.7 L376.0 550.0 L376.3 553.1 L376.7 556.6 L377.1 559.9 L377.5 563.4 L377.9 566.6 L378.5 569.9 L379.1 573.2 L379.7 576.5 L380.5 579.6 L381.3 582.5 L382.3 585.4 L383.4 588.2 L384.7 590.9 L386.3 593.6 L388.3 596.0 L390.4 598.1 L392.9 599.9 L395.5 601.5 L398.2 602.7 L401.1 603.7 L404.0 604.6 L406.9 605.4 L409.9 606.0 L412.9 606.5 L415.9 607.0 L418.8 607.4 L421.9 607.7 L424.9 608.1 L427.9 608.3 L430.9 608.6 L433.9 608.8 L436.9 609.1 L433.9 608.7 L430.9 608.0 L428.1 607.0 L425.5 605.4 L423.3 603.2 L421.6 600.7 L420.2 598.0 L419.0 595.1 L418.8 593.0 L421.4 594.7 L424.1 596.4 L426.6 598.1 L429.1 599.8 L431.6 601.5 L434.1 603.1 L436.6 604.8 L439.2 606.4 L441.7 608.1 L444.3 609.7 L447.3 610.2 L450.3 610.3 L453.3 610.4 L456.3 610.5 L459.4 610.6 L462.4 610.7 L465.4 610.8 L468.4 610.8 L471.4 610.9 L474.5 611.0 L477.5 611.1 L480.5 611.2 L483.5 611.3 L486.6 611.3 L489.6 611.4 L492.6 611.5 L495.6 611.5 L498.7 611.6 L501.7 611.7 L504.7 611.8 L507.7 611.8 L510.7 611.9 L513.8 612.0 L515.8 612.0" fill="none" stroke="#158ef1" stroke-width="1.20" stroke-linejoin="round" stroke-linecap="round"/>
<path d="M336.0 596.0 L339.1 595.7 L341.8 594.4 L342.8 593.5 L345.0 595.5 L348.0 595.0 L350.7 593.5 L353.0 591.5 L353.1 591.4 L353.4 594.5 L354.1 597.5 L356.8 598.8 L359.6 597.5 L361.8 595.4 L363.5 592.8 L364.8 590.0 L366.0 587.1 L367.1 584.1 L368.0 581.2 L368.8 578.1 L369.5 575.0 L370.2 571.8 L370.8 568.5 L371.3 565.2 L371.8 562.0 L372.1 559.0 L372.5 555.6 L372.8 552.6 L373.1 549.3 L373.4 545.6 L373.6 542.5 L373.8 539.2 L374.1 535.5 L374.3 531.6 L374.5 527.2 L374.7 524.0 L374.8 520.6 L375.0 517.1 L375.1 513.3 L375.3 509.2 L375.4 505.0 L375.6 500.5 L375.7 495.8 L375.8 491.0 L376.0 486.3 L376.1 482.2 L376.2 482.1 L376.6 485.9 L376.8 489.2 L377.0 492.8 L377.3 496.8 L377.5 500.8 L377.7 504.8 L377.9 508.8 L378.2 512.8 L378.4 516.6 L378.6 520.3 L378.8 523.8 L379.0 527.2 L379.3 530.5 L379.5 533.6 L379.8 537.4 L380.1 541.0 L380.4 544.4 L380.7 547.5 L381.1 551.1 L381.4 554.4 L381.8 557.4 L382.2 560.7 L382.8 564.1 L383.3 567.2 L383.9 570.3 L384.5 573.3 L385.3 576.2 L386.2 579.2 L387.2 582.1 L388.4 584.9 L389.8 587.6 L391.5 590.1 L393.5 592.5 L395.8 594.5 L398.2 596.3 L400.9 597.8 L403.6 599.0 L406.5 600.0 L409.4 600.9 L412.3 601.6 L415.3 602.3 L418.3 602.8 L421.3 603.3 L424.2 603.7 L427.3 604.0 L430.3 604.4 L433.3 604.7 L436.3 604.9 L439.3 605.2 L442.3 605.4 L439.3 605.1 L436.3 604.6 L433.5 603.7 L430.8 602.3 L428.5 600.2 L426.8 597.8 L425.3 595.1 L424.1 592.1 L423.2 589.2 L423.5 588.8 L426.1 590.5 L428.7 592.4 L431.1 594.1 L433.6 595.9 L436.1 597.7 L438.6 599.4 L441.0 601.2 L443.5 602.9 L446.0 604.6 L448.5 606.3 L451.6 606.5 L454.7 606.7 L457.7 606.8 L460.7 606.9 L463.7 607.0 L466.8 607.0 L469.8 607.1 L472.8 607.2 L475.8 607.3 L478.9 607.4 L481.9 607.5 L484.9 607.6 L487.9 607.6 L490.9 607.7 L494.0 607.8 L497.0 607.9 L500.0 608.0 L503.0 608.0 L506.1 608.1 L509.1 608.2 L512.1 608.2 L515.1 608.3 L518.2 608.4 L519.5 608.4" fill="none" stroke="#1979ee" stroke-width="1.20" stroke-linejoin="round" stroke-linecap="round"/>
<path d="M339.7 591.3 L342.8 591.0 L345.5 589.6 L346.5 588.6 L348.4 591.0 L351.5 590.6 L354.1 589.2 L356.4 587.2 L357.0 586.8 L357.3 590.1 L357.9 593.2 L360.6 594.7 L363.4 593.6 L365.7 591.5 L367.4 588.9 L368.8 586.1 L370.0 583.2 L371.0 580.1 L371.9 577.2 L372.7 574.2 L373.5 571.1 L374.1 567.9 L374.7 564.6 L375.2 561.4 L375.7 558.3 L376.1 554.8 L376.5 551.4 L376.9 547.7 L377.2 544.3 L377.5 540.6 L377.7 537.5 L377.9 534.1 L378.1 530.4 L378.4 526.4 L378.6 522.0 L378.7 518.8 L378.9 515.4 L379.0 511.8 L379.2 507.9 L379.3 503.9 L379.5 499.5 L379.6 495.0 L379.8 490.2 L379.9 485.3 L380.1 480.4 L380.2 475.8 L380.3 474.2 L380.7 477.6 L380.9 480.8 L381.1 484.5 L381.3 488.5 L381.6 492.7 L381.8 496.8 L382.0 501.0 L382.2 505.1 L382.4 509.1 L382.7 512.9 L382.9 516.6 L383.1 520.1 L383.3 523.5 L383.6 526.7 L383.8 529.8 L384.1 533.6 L384.4 537.2 L384.7 540.5 L385.0 543.6 L385.3 547.2 L385.7 550.5 L386.1 553.5 L386.5 556.7 L387.1 560.1 L387.6 563.1 L388.2 566.2 L388.8 569.2 L389.6 572.1 L390.5 575.1 L391.5 578.0 L392.7 580.8 L394.1 583.5 L395.8 586.1 L397.8 588.4 L400.0 590.5 L402.4 592.3 L405.0 593.8 L407.8 595.1 L410.6 596.1 L413.5 597.0 L416.5 597.8 L419.5 598.5 L422.4 599.0 L425.4 599.5 L428.4 599.9 L431.4 600.3 L434.4 600.7 L437.4 601.0 L440.4 601.2 L443.4 601.5 L446.4 601.7 L443.4 601.4 L440.4 600.8 L437.6 599.8 L435.1 598.0 L433.1 595.8 L431.5 593.0 L430.3 590.1 L429.3 587.0 L429.4 585.7 L432.0 587.5 L434.5 589.4 L436.9 591.3 L439.4 593.1 L441.8 594.9 L444.2 596.8 L446.7 598.6 L449.1 600.4 L451.5 602.2 L454.5 602.8 L457.5 603.0 L460.6 603.1 L463.6 603.2 L466.6 603.3 L469.6 603.4 L472.7 603.5 L475.7 603.6 L478.7 603.7 L481.7 603.8 L484.8 603.8 L487.8 603.9 L490.8 604.0 L493.8 604.1 L496.8 604.2 L499.9 604.3 L502.9 604.3 L505.9 604.4 L508.9 604.5 L512.0 604.6 L515.0 604.6 L518.0 604.7 L521.0 604.8 L523.2 604.8" fill="none" stroke="#1e64eb" stroke-width="1.20" stroke-linejoin="round" stroke-linecap="round"/>
<line x1="317.50" y1="625.10" x2="501.30" y2="628.40" stroke="#3a3a3a" stroke-width="0.90"/>
<line x1="501.30" y1="628.40" x2="527.20" y2="603.45" stroke="#3a3a3a" stroke-width="0.90"/>
<line x1="317.50" y1="625.10" x2="317.50" y2="483.30" stroke="#3a3a3a" stroke-width="0.90"/>
<line x1="317.50" y1="625.10" x2="320.70" y2="625.10" stroke="#3a3a3a" stroke-width="0.80"/>
<text x="314.50" y="628.90" text-anchor="end" font-size="9.80" font-weight="normal" font-style="normal">0</text>
<line x1="317.50" y1="581.47" x2="320.70" y2="581.47" stroke="#3a3a3a" stroke-width="0.80"/>
<text x="314.50" y="584.77" text-anchor="end" font-size="9.80" font-weight="normal" font-style="normal">0.4</text>
<line x1="317.50" y1="537.84" x2="320.70" y2="537.84" stroke="#3a3a3a" stroke-width="0.80"/>
<text x="314.50" y="541.14" text-anchor="end" font-size="9.80" font-weight="normal" font-style="normal">0.8</text>
<line x1="317.50" y1="494.22" x2="320.70" y2="494.22" stroke="#3a3a3a" stroke-width="0.80"/>
<text x="314.50" y="497.52" text-anchor="end" font-size="9.80" font-weight="normal" font-style="normal">1.2</text>
<line x1="388.19" y1="626.37" x2="392.19" y2="622.87" stroke="#3a3a3a" stroke-width="0.90"/>
<line x1="458.88" y1="627.64" x2="462.88" y2="624.14" stroke="#3a3a3a" stroke-width="0.90"/>
<text x="316.30" y="637.30" text-anchor="middle" font-size="9.80" font-weight="normal" font-style="normal">0.2</text>
<text x="386.39" y="637.97" text-anchor="middle" font-size="9.80" font-weight="normal" font-style="normal">0.7</text>
<text x="457.68" y="639.24" text-anchor="middle" font-size="9.80" font-weight="normal" font-style="normal">1.2</text>
<line x1="514.25" y1="615.93" x2="510.25" y2="615.93" stroke="#3a3a3a" stroke-width="0.80"/>
<text x="511.50" y="638.00" text-anchor="middle" font-size="9.80" font-weight="normal" font-style="normal">100</text>
<text x="524.05" y="625.93" text-anchor="middle" font-size="9.80" font-weight="normal" font-style="normal">170</text>
<text x="536.60" y="614.05" text-anchor="middle" font-size="9.80" font-weight="normal" font-style="normal">240</text>
<text x="514.00" y="646.40" text-anchor="middle" font-size="9.80" font-weight="normal" font-style="normal">Torque NM</text>
<text x="295.20" y="555.80" text-anchor="middle" font-size="9.80" font-weight="normal" font-style="normal" transform="rotate(-90 295.20 555.80)">Amplitude A<tspan font-size="7.1" dy="3.3">2</tspan></text>
<text x="409.20" y="649.60" text-anchor="middle" font-size="9.80" font-weight="normal" font-style="normal">Frequency <tspan font-style="italic">&#969;</tspan></text>
<text x="417.00" y="666.20" text-anchor="middle" font-size="11.20" font-weight="bold" font-style="normal">(f)</text>
<text x="502.90" y="478.85" text-anchor="middle" font-size="9.80" font-weight="normal" font-style="normal">ETC</text>
<line x1="381.50" y1="474.20" x2="397.00" y2="474.20" stroke="#ff00ff" stroke-width="0.90"/>
<polygon points="400.20,474.20 396.00,476.10 396.00,472.30" fill="#ff00ff"/>
<text x="400.50" y="477.60" text-anchor="start" font-size="9.80" font-weight="normal" font-style="normal">SP-HR</text>
<line x1="428.60" y1="577.20" x2="428.60" y2="570.40" stroke="#ff00ff" stroke-width="0.90"/>
<polygon points="428.60,567.20 430.50,571.40 426.70,571.40" fill="#ff00ff"/>
<text x="430.00" y="566.60" text-anchor="middle" font-size="9.80" font-weight="normal" font-style="normal">PR</text>
</svg>
</body></html>
